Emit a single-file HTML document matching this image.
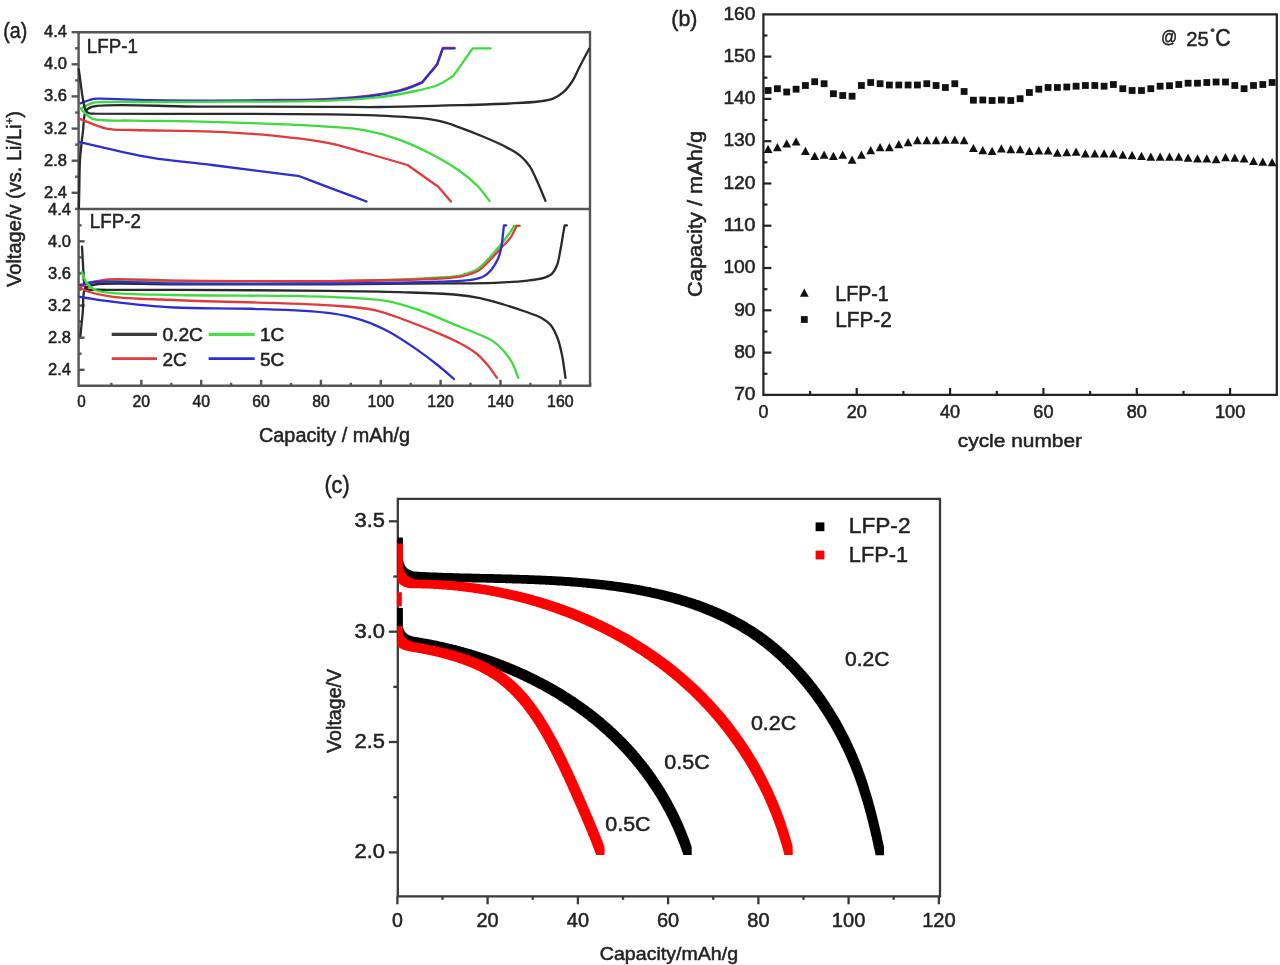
<!DOCTYPE html>
<html><head><meta charset="utf-8"><style>
html,body{margin:0;padding:0;background:#fff;width:1280px;height:965px;overflow:hidden}
svg{display:block;filter:blur(0.6px)}
text{font-family:"Liberation Sans",sans-serif;stroke:#222;stroke-width:0.5px}
</style></head><body>
<svg width="1280" height="965" viewBox="0 0 1280 965">
<rect width="1280" height="965" fill="#fff"/>
<g stroke="#555" stroke-width="2.4" fill="none">
<path d="M78.6 32.2 H590.0 V385.8 H78.6 Z"/>
<path d="M78.6 209.0 H590.0"/>
<path d="M71.6 32.2 h7.0"/>
<path d="M75.1 48.3 h3.5"/>
<path d="M71.6 64.3 h7.0"/>
<path d="M75.1 80.4 h3.5"/>
<path d="M71.6 96.4 h7.0"/>
<path d="M75.1 112.5 h3.5"/>
<path d="M71.6 128.6 h7.0"/>
<path d="M75.1 144.6 h3.5"/>
<path d="M71.6 160.7 h7.0"/>
<path d="M75.1 176.7 h3.5"/>
<path d="M71.6 192.8 h7.0"/>
<path d="M75.1 208.9 h3.5"/>
<path d="M78.6 225.3 h3.0"/>
<path d="M78.6 241.3 h6.0"/>
<path d="M78.6 257.4 h3.0"/>
<path d="M78.6 273.4 h6.0"/>
<path d="M78.6 289.5 h3.0"/>
<path d="M78.6 305.6 h6.0"/>
<path d="M78.6 321.6 h3.0"/>
<path d="M78.6 337.7 h6.0"/>
<path d="M78.6 353.7 h3.0"/>
<path d="M78.6 369.8 h6.0"/>
<path d="M111.4 385.8 v-3.0"/>
<path d="M141.3 385.8 v-6.0"/>
<path d="M171.3 385.8 v-3.0"/>
<path d="M201.2 385.8 v-6.0"/>
<path d="M231.1 385.8 v-3.0"/>
<path d="M261.1 385.8 v-6.0"/>
<path d="M291.0 385.8 v-3.0"/>
<path d="M320.9 385.8 v-6.0"/>
<path d="M350.8 385.8 v-3.0"/>
<path d="M380.8 385.8 v-6.0"/>
<path d="M410.7 385.8 v-3.0"/>
<path d="M440.6 385.8 v-6.0"/>
<path d="M470.5 385.8 v-3.0"/>
<path d="M500.5 385.8 v-6.0"/>
<path d="M530.4 385.8 v-3.0"/>
<path d="M560.3 385.8 v-6.0"/>
<path d="M590.2 385.8 v-3.0"/>
</g>
<text x="67.0" y="37.1" font-size="16.0" text-anchor="end" fill="#222" textLength="23.0" lengthAdjust="spacingAndGlyphs" >4.4</text>
<text x="67.0" y="69.2" font-size="16.0" text-anchor="end" fill="#222" textLength="23.0" lengthAdjust="spacingAndGlyphs" >4.0</text>
<text x="67.0" y="101.3" font-size="16.0" text-anchor="end" fill="#222" textLength="23.0" lengthAdjust="spacingAndGlyphs" >3.6</text>
<text x="67.0" y="133.5" font-size="16.0" text-anchor="end" fill="#222" textLength="23.0" lengthAdjust="spacingAndGlyphs" >3.2</text>
<text x="67.0" y="165.6" font-size="16.0" text-anchor="end" fill="#222" textLength="23.0" lengthAdjust="spacingAndGlyphs" >2.8</text>
<text x="67.0" y="197.7" font-size="16.0" text-anchor="end" fill="#222" textLength="23.0" lengthAdjust="spacingAndGlyphs" >2.4</text>
<text x="71.0" y="214.7" font-size="16.0" text-anchor="end" fill="#222" textLength="23.0" lengthAdjust="spacingAndGlyphs" >4.4</text>
<text x="71.0" y="246.8" font-size="16.0" text-anchor="end" fill="#222" textLength="23.0" lengthAdjust="spacingAndGlyphs" >4.0</text>
<text x="71.0" y="278.9" font-size="16.0" text-anchor="end" fill="#222" textLength="23.0" lengthAdjust="spacingAndGlyphs" >3.6</text>
<text x="71.0" y="311.1" font-size="16.0" text-anchor="end" fill="#222" textLength="23.0" lengthAdjust="spacingAndGlyphs" >3.2</text>
<text x="71.0" y="343.2" font-size="16.0" text-anchor="end" fill="#222" textLength="23.0" lengthAdjust="spacingAndGlyphs" >2.8</text>
<text x="71.0" y="375.3" font-size="16.0" text-anchor="end" fill="#222" textLength="23.0" lengthAdjust="spacingAndGlyphs" >2.4</text>
<text x="81.5" y="407.0" font-size="16.0" text-anchor="middle" fill="#222" textLength="8.5" lengthAdjust="spacingAndGlyphs" >0</text>
<text x="141.3" y="407.0" font-size="16.0" text-anchor="middle" fill="#222" textLength="17.5" lengthAdjust="spacingAndGlyphs" >20</text>
<text x="201.2" y="407.0" font-size="16.0" text-anchor="middle" fill="#222" textLength="17.5" lengthAdjust="spacingAndGlyphs" >40</text>
<text x="261.1" y="407.0" font-size="16.0" text-anchor="middle" fill="#222" textLength="17.5" lengthAdjust="spacingAndGlyphs" >60</text>
<text x="320.9" y="407.0" font-size="16.0" text-anchor="middle" fill="#222" textLength="17.5" lengthAdjust="spacingAndGlyphs" >80</text>
<text x="380.8" y="407.0" font-size="16.0" text-anchor="middle" fill="#222" textLength="26.5" lengthAdjust="spacingAndGlyphs" >100</text>
<text x="440.6" y="407.0" font-size="16.0" text-anchor="middle" fill="#222" textLength="26.5" lengthAdjust="spacingAndGlyphs" >120</text>
<text x="500.5" y="407.0" font-size="16.0" text-anchor="middle" fill="#222" textLength="26.5" lengthAdjust="spacingAndGlyphs" >140</text>
<text x="560.3" y="407.0" font-size="16.0" text-anchor="middle" fill="#222" textLength="26.5" lengthAdjust="spacingAndGlyphs" >160</text>
<text x="3.3" y="38.0" font-size="22.0" text-anchor="start" fill="#222" textLength="24.0" lengthAdjust="spacingAndGlyphs" >(a)</text>
<text x="86.8" y="53.0" font-size="20.0" text-anchor="start" fill="#222" textLength="51.0" lengthAdjust="spacingAndGlyphs" >LFP-1</text>
<text x="89.8" y="228.0" font-size="20.0" text-anchor="start" fill="#222" textLength="51.0" lengthAdjust="spacingAndGlyphs" >LFP-2</text>
<text x="259.0" y="441.8" font-size="20.0" text-anchor="start" fill="#222" textLength="151.0" lengthAdjust="spacingAndGlyphs" >Capacity / mAh/g</text>
<text transform="translate(20.5 287) rotate(-90)" font-size="19.5" fill="#222" textLength="176" lengthAdjust="spacingAndGlyphs">Voltage/v (vs. Li/Li<tspan font-size="11" dy="-8">+</tspan><tspan dy="8">)</tspan></text>
<g stroke-width="2.5" fill="none">
<path d="M111.7 334.4 H157" stroke="#3a3a3a" stroke-width="3.4"/>
<path d="M208.6 334.4 H254.7" stroke="#4ddc4d" stroke-width="3.4"/>
<path d="M111.7 358.6 H157" stroke="#e03a3a" stroke-width="2.8"/>
<path d="M208.6 358.6 H254.7" stroke="#2e2ed0" stroke-width="2.8"/>
</g>
<text x="162.4" y="341.0" font-size="17.5" text-anchor="start" fill="#222" textLength="40.6" lengthAdjust="spacingAndGlyphs" >0.2C</text>
<text x="260.0" y="341.0" font-size="17.5" text-anchor="start" fill="#222" textLength="24.3" lengthAdjust="spacingAndGlyphs" >1C</text>
<text x="162.4" y="365.8" font-size="17.5" text-anchor="start" fill="#222" textLength="24.3" lengthAdjust="spacingAndGlyphs" >2C</text>
<text x="260.0" y="365.8" font-size="17.5" text-anchor="start" fill="#222" textLength="24.3" lengthAdjust="spacingAndGlyphs" >5C</text>
<g fill="none" stroke-width="2.3" stroke-linejoin="round" stroke-linecap="round">
<path stroke="#e03a3a" d="M252.80 100.30 C278.53 99.83 308.26 100.01 330.00 98.90 C345.95 98.08 359.07 97.02 371.40 95.40 C381.48 94.07 392.00 92.09 398.70 90.50 C402.68 89.55 404.68 88.90 408.10 87.70 C412.36 86.21 417.50 83.90 422.20 82.00 L437.20 64.00 L442.80 48.00 L454.50 48.00"/>
<path stroke="#2e2ed0" d="M80.50 103.40 C83.93 102.13 87.72 100.37 90.80 99.60 C93.18 99.00 94.07 98.88 97.30 98.70 C106.53 98.19 130.26 99.88 151.00 100.20 C179.55 100.64 221.21 100.68 252.80 100.50 C280.31 100.34 308.26 100.45 330.00 99.40 C345.95 98.63 359.07 97.61 371.40 96.00 C381.48 94.68 392.00 92.69 398.70 91.10 C402.68 90.15 404.68 89.50 408.10 88.30 C412.36 86.81 417.50 84.50 422.20 82.60 L437.20 64.40 L442.80 48.40 L454.50 48.40"/>
<path stroke="#3cdc3c" d="M80.50 108.50 C84.57 106.63 88.82 103.95 92.70 102.90 C95.93 102.03 97.97 102.19 102.00 102.00 C109.47 101.64 121.42 102.02 134.00 102.00 C152.06 101.97 174.31 101.96 200.00 101.80 C236.06 101.58 296.84 101.88 330.00 100.60 C350.59 99.81 365.75 98.87 380.00 97.20 C390.74 95.94 398.62 94.47 408.10 92.50 C417.98 90.44 430.01 88.33 438.10 85.00 C444.18 82.50 448.10 79.07 453.10 76.10 L472.80 48.40 L490.60 48.40"/>
<path stroke="#2a2a2a" d="M78.90 208.00 C79.03 202.00 79.15 196.76 79.30 190.00 C79.50 181.27 79.38 169.83 80.00 160.00 C80.60 150.44 81.80 140.54 82.90 131.80 C83.86 124.16 83.38 114.40 86.10 110.40 C87.72 108.03 88.96 107.60 92.70 106.60 C106.74 102.85 162.52 106.57 200.00 106.60 C241.26 106.63 296.83 106.71 330.00 106.80 C350.57 106.86 361.39 107.17 380.00 107.00 C403.55 106.78 436.59 105.87 460.00 105.20 C478.33 104.68 494.75 104.23 509.00 103.50 C520.05 102.93 530.33 102.57 538.40 101.50 C544.14 100.74 548.74 100.25 553.00 98.60 C556.73 97.16 559.75 95.32 562.80 92.70 C566.32 89.67 569.74 85.22 572.50 81.00 C575.28 76.76 576.88 72.20 579.40 67.30 C582.34 61.58 585.87 54.97 589.10 48.80"/>
<path stroke="#2a2a2a" d="M78.70 69.30 C81.03 83.00 82.57 104.79 85.70 110.40 C86.72 112.22 87.62 112.74 89.00 113.30 C90.62 113.96 91.77 113.51 95.00 113.60 C108.50 113.96 163.13 113.79 200.00 113.90 C241.02 114.02 297.77 113.86 330.00 114.30 C349.09 114.56 360.41 114.75 375.60 115.40 C390.81 116.05 408.64 116.72 421.20 118.20 C430.14 119.26 437.13 120.45 444.00 122.20 C449.87 123.70 454.22 125.50 460.00 127.60 C466.96 130.13 475.24 133.32 482.80 136.50 C490.44 139.72 498.92 143.25 505.60 146.80 C511.17 149.76 516.25 152.45 520.40 155.90 C524.09 158.97 526.89 162.10 529.60 166.10 C532.69 170.66 534.93 176.51 537.50 182.10 C540.24 188.08 542.83 194.63 545.50 200.90"/>
<path stroke="#3cdc3c" d="M80.50 108.50 C82.33 110.33 84.00 112.30 86.00 114.00 C88.06 115.75 89.26 117.61 92.70 118.80 C100.41 121.46 119.06 120.17 134.00 120.60 C151.69 121.11 168.55 120.78 192.00 121.40 C228.19 122.36 299.44 124.69 330.00 126.80 C345.24 127.85 352.88 128.15 364.20 130.20 C375.68 132.28 387.16 135.30 398.40 139.30 C409.97 143.41 421.98 149.14 432.60 154.70 C442.40 159.84 452.12 165.59 460.00 171.20 C466.58 175.89 472.06 180.39 477.10 185.50 C481.85 190.32 485.43 195.77 489.60 200.90"/>
<path stroke="#e03a3a" d="M79.60 118.80 C88.60 122.07 97.43 126.74 106.60 128.60 C115.57 130.41 122.53 129.59 134.00 130.00 C153.35 130.69 187.61 130.55 212.00 131.60 C233.59 132.53 253.05 133.60 273.00 135.60 C292.36 137.54 313.51 139.98 330.00 143.30 C342.94 145.90 352.14 149.14 364.20 152.50 C377.80 156.29 393.07 160.83 407.50 165.00 L438.30 186.70 L450.90 201.50"/>
<path stroke="#2e2ed0" d="M79.60 142.10 C103.40 147.27 128.05 153.73 151.00 157.60 C172.05 161.15 189.84 162.24 212.00 165.00 C238.55 168.31 270.33 172.47 299.50 176.20 C309.67 180.07 319.37 183.78 330.00 187.80 C341.62 192.19 354.33 196.93 366.50 201.50"/>
<path stroke="#2a2a2a" d="M80.40 336.00 C81.23 327.33 82.39 317.49 82.90 310.00 C83.29 304.32 82.85 299.03 83.50 295.00 C83.95 292.20 83.91 289.72 85.50 288.00 C87.38 285.98 90.18 285.37 95.00 284.50 C108.46 282.08 143.23 284.34 174.00 284.30 C217.24 284.25 282.53 284.49 330.00 284.30 C369.86 284.14 409.67 283.69 440.00 283.40 C461.39 283.20 478.79 283.42 494.70 282.80 C507.03 282.32 518.46 281.64 527.50 280.60 C533.93 279.86 539.54 279.30 543.90 277.90 C547.04 276.89 549.47 276.04 551.60 274.10 C553.93 271.97 555.59 268.77 557.00 265.30 C558.73 261.02 559.34 255.36 560.40 250.00 C561.56 244.12 562.80 235.89 563.60 231.40 C564.05 228.85 564.33 227.40 564.70 225.40 L566.90 225.40"/>
<path stroke="#2a2a2a" d="M82.00 246.60 C82.43 254.40 82.93 263.49 83.30 270.00 C83.57 274.66 83.30 278.58 84.00 282.00 C84.55 284.69 84.67 287.62 86.50 289.00 C88.78 290.72 92.48 289.56 98.00 289.75 C112.19 290.23 144.16 289.77 174.00 289.90 C216.75 290.08 288.28 290.38 330.00 290.90 C357.95 291.25 378.18 291.53 400.00 292.20 C419.17 292.79 439.28 293.14 454.00 294.50 C464.26 295.45 471.60 296.48 480.00 298.20 C488.08 299.85 495.87 302.24 503.50 304.50 C510.86 306.68 518.33 309.11 525.00 311.50 C530.92 313.62 537.01 315.35 541.60 318.00 C545.37 320.18 548.41 322.35 551.00 325.50 C553.80 328.91 555.72 333.41 557.50 338.00 C559.49 343.13 560.73 348.88 562.00 355.00 C563.46 362.03 564.33 370.27 565.50 377.90"/>
<path stroke="#3cdc3c" d="M80.00 286.00 C84.00 284.67 86.10 282.99 92.00 282.00 C107.02 279.47 142.31 281.16 174.00 281.00 C217.71 280.78 282.54 282.07 330.00 281.30 C369.87 280.65 417.39 279.18 440.00 277.50 C450.12 276.75 455.23 276.69 461.90 275.00 C467.87 273.49 473.63 271.41 478.30 268.40 C482.61 265.62 485.56 261.82 489.20 258.00 C493.23 253.77 497.55 248.64 501.30 244.00 C504.82 239.65 508.87 234.40 511.10 231.00 C512.44 228.96 513.03 227.60 514.00 225.90 L520.00 225.90"/>
<path stroke="#e03a3a" d="M80.00 287.00 C83.33 285.67 86.22 284.15 90.00 283.00 C94.66 281.59 98.76 280.31 106.00 279.60 C120.75 278.16 146.69 280.36 174.00 280.60 C215.36 280.97 282.53 281.58 330.00 281.10 C369.86 280.69 417.39 279.90 440.00 278.50 C450.11 277.87 455.20 277.74 461.90 276.30 C467.84 275.02 473.62 273.53 478.30 270.80 C482.60 268.29 485.56 264.61 489.20 261.00 C493.22 257.01 497.49 252.00 501.30 247.80 C504.75 244.00 508.49 240.73 511.10 236.90 C513.49 233.40 514.77 229.57 516.60 225.90 L518.80 225.90"/>
<path stroke="#2e2ed0" d="M80.00 285.00 C85.00 284.00 87.99 282.63 95.00 282.00 C110.94 280.57 143.23 283.21 174.00 283.50 C217.24 283.91 282.53 283.89 330.00 283.50 C369.86 283.17 414.11 282.74 440.00 281.70 C454.15 281.13 464.84 281.03 472.80 279.60 C477.51 278.75 480.63 278.05 483.80 276.30 C486.77 274.67 489.14 272.38 491.40 269.70 C493.94 266.68 496.33 262.55 498.00 258.80 C499.58 255.24 500.49 251.66 501.30 247.80 C502.17 243.66 502.42 238.69 502.90 234.70 C503.30 231.34 503.63 228.50 504.00 225.40 L506.20 225.40"/>
<path stroke="#3cdc3c" d="M82.00 272.00 C83.33 275.33 83.94 279.06 86.00 282.00 C88.18 285.11 91.32 288.20 95.00 290.00 C99.14 292.03 103.22 292.06 110.00 292.80 C123.88 294.33 147.99 294.39 174.00 295.00 C214.60 295.94 291.40 295.32 330.00 296.90 C352.82 297.84 368.68 298.08 384.40 300.70 C396.76 302.76 405.51 305.56 417.00 309.40 C430.47 313.90 449.07 322.41 460.00 326.80 C466.72 329.50 470.90 330.97 476.30 333.30 C481.77 335.66 487.91 337.80 492.60 340.90 C496.84 343.70 500.24 347.08 503.50 350.70 C506.78 354.34 509.79 358.30 512.20 362.70 C514.74 367.32 516.20 372.83 518.20 377.90"/>
<path stroke="#e03a3a" d="M80.00 287.00 C81.33 288.00 81.91 289.02 84.00 290.00 C89.00 292.34 100.75 294.98 112.00 296.60 C128.53 298.98 148.64 298.87 174.00 300.00 C214.21 301.80 294.09 302.96 330.00 305.40 C349.01 306.69 360.17 306.98 373.50 309.80 C385.32 312.30 395.37 316.57 406.20 320.50 C417.14 324.47 429.15 329.35 438.80 333.50 C446.67 336.89 453.50 339.78 460.00 343.30 C465.90 346.49 471.60 349.74 476.30 353.50 C480.52 356.88 483.80 360.52 487.20 364.50 C490.72 368.63 493.73 373.43 497.00 377.90"/>
<path stroke="#2e2ed0" d="M80.00 297.00 C81.33 297.17 82.09 297.24 84.00 297.50 C88.89 298.16 99.39 300.01 110.00 301.30 C126.59 303.31 151.72 306.24 174.00 307.50 C198.22 308.87 224.35 307.83 250.00 308.75 C276.33 309.70 309.31 310.39 330.00 313.20 C343.35 315.01 352.38 316.99 362.60 320.30 C372.24 323.42 380.92 327.45 389.80 332.20 C399.07 337.15 408.54 343.72 417.00 349.60 C424.78 355.00 432.26 360.75 438.80 366.00 C444.40 370.49 448.93 374.67 454.00 379.00"/>
</g>
<g stroke="#222" stroke-width="2.2" fill="none">
<path d="M763.4 14.3 H1276.8 V394.9 H763.4 Z"/>
<path d="M763.4 373.8 h4.0"/>
<path d="M763.4 352.6 h8.0"/>
<path d="M763.4 331.5 h4.0"/>
<path d="M763.4 310.3 h8.0"/>
<path d="M763.4 289.2 h4.0"/>
<path d="M763.4 268.0 h8.0"/>
<path d="M763.4 246.9 h4.0"/>
<path d="M763.4 225.7 h8.0"/>
<path d="M763.4 204.6 h4.0"/>
<path d="M763.4 183.5 h8.0"/>
<path d="M763.4 162.3 h4.0"/>
<path d="M763.4 141.2 h8.0"/>
<path d="M763.4 120.0 h4.0"/>
<path d="M763.4 98.9 h8.0"/>
<path d="M763.4 77.7 h4.0"/>
<path d="M763.4 56.6 h8.0"/>
<path d="M763.4 35.5 h4.0"/>
<path d="M810.1 394.9 v-4.0"/>
<path d="M856.7 394.9 v-7.0"/>
<path d="M903.4 394.9 v-4.0"/>
<path d="M950.1 394.9 v-7.0"/>
<path d="M996.8 394.9 v-4.0"/>
<path d="M1043.4 394.9 v-7.0"/>
<path d="M1090.1 394.9 v-4.0"/>
<path d="M1136.8 394.9 v-7.0"/>
<path d="M1183.5 394.9 v-4.0"/>
<path d="M1230.1 394.9 v-7.0"/>
</g>
<text x="755.5" y="400.1" font-size="18.0" text-anchor="end" fill="#222" textLength="21.3" lengthAdjust="spacingAndGlyphs" >70</text>
<text x="755.5" y="357.8" font-size="18.0" text-anchor="end" fill="#222" textLength="21.3" lengthAdjust="spacingAndGlyphs" >80</text>
<text x="755.5" y="315.5" font-size="18.0" text-anchor="end" fill="#222" textLength="21.3" lengthAdjust="spacingAndGlyphs" >90</text>
<text x="755.5" y="273.2" font-size="18.0" text-anchor="end" fill="#222" textLength="32.1" lengthAdjust="spacingAndGlyphs" >100</text>
<text x="755.5" y="230.9" font-size="18.0" text-anchor="end" fill="#222" textLength="32.1" lengthAdjust="spacingAndGlyphs" >110</text>
<text x="755.5" y="188.7" font-size="18.0" text-anchor="end" fill="#222" textLength="32.1" lengthAdjust="spacingAndGlyphs" >120</text>
<text x="755.5" y="146.4" font-size="18.0" text-anchor="end" fill="#222" textLength="32.1" lengthAdjust="spacingAndGlyphs" >130</text>
<text x="755.5" y="104.1" font-size="18.0" text-anchor="end" fill="#222" textLength="32.1" lengthAdjust="spacingAndGlyphs" >140</text>
<text x="755.5" y="61.8" font-size="18.0" text-anchor="end" fill="#222" textLength="32.1" lengthAdjust="spacingAndGlyphs" >150</text>
<text x="755.5" y="19.5" font-size="18.0" text-anchor="end" fill="#222" textLength="32.1" lengthAdjust="spacingAndGlyphs" >160</text>
<text x="763.4" y="418.2" font-size="18.0" text-anchor="middle" fill="#222" textLength="9.9" lengthAdjust="spacingAndGlyphs" >0</text>
<text x="856.7" y="418.2" font-size="18.0" text-anchor="middle" fill="#222" textLength="20.1" lengthAdjust="spacingAndGlyphs" >20</text>
<text x="950.1" y="418.2" font-size="18.0" text-anchor="middle" fill="#222" textLength="20.1" lengthAdjust="spacingAndGlyphs" >40</text>
<text x="1043.4" y="418.2" font-size="18.0" text-anchor="middle" fill="#222" textLength="20.1" lengthAdjust="spacingAndGlyphs" >60</text>
<text x="1136.8" y="418.2" font-size="18.0" text-anchor="middle" fill="#222" textLength="20.1" lengthAdjust="spacingAndGlyphs" >80</text>
<text x="1230.1" y="418.2" font-size="18.0" text-anchor="middle" fill="#222" textLength="30.3" lengthAdjust="spacingAndGlyphs" >100</text>
<text x="671.3" y="25.5" font-size="22.5" text-anchor="start" fill="#222" textLength="26.2" lengthAdjust="spacingAndGlyphs" >(b)</text>
<text x="957.8" y="447.4" font-size="19.2" text-anchor="start" fill="#222" textLength="124.2" lengthAdjust="spacingAndGlyphs" >cycle number</text>
<text transform="translate(701.8 296.9) rotate(-90)" font-size="20" fill="#222" textLength="166" lengthAdjust="spacingAndGlyphs">Capacity / mAh/g</text>
<text x="1161.0" y="42.8" font-size="17.5" text-anchor="start" fill="#222" textLength="16.2" lengthAdjust="spacingAndGlyphs" >@</text>
<text x="1186.3" y="45.7" font-size="21.0" text-anchor="start" fill="#222" textLength="22.5" lengthAdjust="spacingAndGlyphs" >25</text>
<circle cx="1212.6" cy="30.2" r="1.9" fill="#444"/>
<text x="1215.3" y="45.7" font-size="24.0" text-anchor="start" fill="#222" textLength="15.4" lengthAdjust="spacingAndGlyphs" >C</text>
<g fill="#111">
<rect x="764.7" y="87.1" width="6.8" height="6.8"/>
<rect x="774.0" y="85.3" width="6.8" height="6.8"/>
<rect x="783.3" y="88.6" width="6.8" height="6.8"/>
<rect x="792.7" y="85.8" width="6.8" height="6.8"/>
<rect x="802.0" y="82.1" width="6.8" height="6.8"/>
<rect x="811.3" y="78.3" width="6.8" height="6.8"/>
<rect x="820.7" y="80.3" width="6.8" height="6.8"/>
<rect x="830.0" y="90.3" width="6.8" height="6.8"/>
<rect x="839.3" y="92.1" width="6.8" height="6.8"/>
<rect x="848.7" y="92.8" width="6.8" height="6.8"/>
<rect x="858.0" y="82.1" width="6.8" height="6.8"/>
<rect x="867.3" y="79.1" width="6.8" height="6.8"/>
<rect x="876.7" y="80.3" width="6.8" height="6.8"/>
<rect x="886.0" y="81.6" width="6.8" height="6.8"/>
<rect x="895.4" y="81.6" width="6.8" height="6.8"/>
<rect x="904.7" y="81.6" width="6.8" height="6.8"/>
<rect x="914.0" y="81.6" width="6.8" height="6.8"/>
<rect x="923.4" y="80.3" width="6.8" height="6.8"/>
<rect x="932.7" y="82.1" width="6.8" height="6.8"/>
<rect x="942.0" y="84.1" width="6.8" height="6.8"/>
<rect x="951.4" y="80.3" width="6.8" height="6.8"/>
<rect x="960.7" y="88.1" width="6.8" height="6.8"/>
<rect x="970.0" y="96.8" width="6.8" height="6.8"/>
<rect x="979.4" y="96.6" width="6.8" height="6.8"/>
<rect x="988.7" y="97.1" width="6.8" height="6.8"/>
<rect x="998.0" y="96.6" width="6.8" height="6.8"/>
<rect x="1007.4" y="97.1" width="6.8" height="6.8"/>
<rect x="1016.7" y="95.3" width="6.8" height="6.8"/>
<rect x="1026.0" y="89.1" width="6.8" height="6.8"/>
<rect x="1035.4" y="85.8" width="6.8" height="6.8"/>
<rect x="1044.7" y="84.1" width="6.8" height="6.8"/>
<rect x="1054.0" y="84.1" width="6.8" height="6.8"/>
<rect x="1063.4" y="83.6" width="6.8" height="6.8"/>
<rect x="1072.7" y="82.8" width="6.8" height="6.8"/>
<rect x="1082.0" y="82.1" width="6.8" height="6.8"/>
<rect x="1091.4" y="82.1" width="6.8" height="6.8"/>
<rect x="1100.7" y="82.8" width="6.8" height="6.8"/>
<rect x="1110.0" y="81.1" width="6.8" height="6.8"/>
<rect x="1119.4" y="85.3" width="6.8" height="6.8"/>
<rect x="1128.7" y="87.1" width="6.8" height="6.8"/>
<rect x="1138.1" y="87.1" width="6.8" height="6.8"/>
<rect x="1147.4" y="85.3" width="6.8" height="6.8"/>
<rect x="1156.7" y="82.8" width="6.8" height="6.8"/>
<rect x="1166.1" y="82.3" width="6.8" height="6.8"/>
<rect x="1175.4" y="81.1" width="6.8" height="6.8"/>
<rect x="1184.7" y="79.8" width="6.8" height="6.8"/>
<rect x="1194.1" y="79.8" width="6.8" height="6.8"/>
<rect x="1203.4" y="79.1" width="6.8" height="6.8"/>
<rect x="1212.7" y="78.6" width="6.8" height="6.8"/>
<rect x="1222.1" y="78.6" width="6.8" height="6.8"/>
<rect x="1231.4" y="82.1" width="6.8" height="6.8"/>
<rect x="1240.7" y="85.3" width="6.8" height="6.8"/>
<rect x="1250.1" y="82.1" width="6.8" height="6.8"/>
<rect x="1259.4" y="81.1" width="6.8" height="6.8"/>
<rect x="1268.7" y="79.1" width="6.8" height="6.8"/>
<path d="M768.1 144.8 L772.5 152.9 L763.7 152.9 Z"/>
<path d="M777.4 143.1 L781.8 151.2 L773.0 151.2 Z"/>
<path d="M786.7 139.3 L791.1 147.4 L782.3 147.4 Z"/>
<path d="M796.1 137.3 L800.5 145.4 L791.7 145.4 Z"/>
<path d="M805.4 146.8 L809.8 154.9 L801.0 154.9 Z"/>
<path d="M814.7 151.8 L819.1 159.9 L810.3 159.9 Z"/>
<path d="M824.1 150.6 L828.5 158.7 L819.7 158.7 Z"/>
<path d="M833.4 151.8 L837.8 159.9 L829.0 159.9 Z"/>
<path d="M842.7 150.6 L847.1 158.7 L838.3 158.7 Z"/>
<path d="M852.1 155.6 L856.5 163.7 L847.7 163.7 Z"/>
<path d="M861.4 150.6 L865.8 158.7 L857.0 158.7 Z"/>
<path d="M870.7 146.1 L875.1 154.2 L866.3 154.2 Z"/>
<path d="M880.1 143.1 L884.5 151.2 L875.7 151.2 Z"/>
<path d="M889.4 143.1 L893.8 151.2 L885.0 151.2 Z"/>
<path d="M898.8 140.1 L903.2 148.2 L894.4 148.2 Z"/>
<path d="M908.1 138.1 L912.5 146.2 L903.7 146.2 Z"/>
<path d="M917.4 136.1 L921.8 144.2 L913.0 144.2 Z"/>
<path d="M926.8 136.1 L931.2 144.2 L922.4 144.2 Z"/>
<path d="M936.1 136.1 L940.5 144.2 L931.7 144.2 Z"/>
<path d="M945.4 135.6 L949.8 143.7 L941.0 143.7 Z"/>
<path d="M954.8 135.6 L959.2 143.7 L950.4 143.7 Z"/>
<path d="M964.1 136.1 L968.5 144.2 L959.7 144.2 Z"/>
<path d="M973.4 144.0 L977.8 152.1 L969.0 152.1 Z"/>
<path d="M982.8 146.1 L987.2 154.2 L978.4 154.2 Z"/>
<path d="M992.1 146.8 L996.5 154.9 L987.7 154.9 Z"/>
<path d="M1001.4 144.3 L1005.8 152.4 L997.0 152.4 Z"/>
<path d="M1010.8 145.1 L1015.2 153.2 L1006.4 153.2 Z"/>
<path d="M1020.1 145.1 L1024.5 153.2 L1015.7 153.2 Z"/>
<path d="M1029.4 146.8 L1033.8 154.9 L1025.0 154.9 Z"/>
<path d="M1038.8 146.3 L1043.2 154.4 L1034.4 154.4 Z"/>
<path d="M1048.1 146.3 L1052.5 154.4 L1043.7 154.4 Z"/>
<path d="M1057.4 148.6 L1061.8 156.7 L1053.0 156.7 Z"/>
<path d="M1066.8 148.1 L1071.2 156.2 L1062.4 156.2 Z"/>
<path d="M1076.1 147.6 L1080.5 155.7 L1071.7 155.7 Z"/>
<path d="M1085.4 149.3 L1089.8 157.4 L1081.0 157.4 Z"/>
<path d="M1094.8 149.3 L1099.2 157.4 L1090.4 157.4 Z"/>
<path d="M1104.1 149.3 L1108.5 157.4 L1099.7 157.4 Z"/>
<path d="M1113.4 149.3 L1117.8 157.4 L1109.0 157.4 Z"/>
<path d="M1122.8 150.6 L1127.2 158.7 L1118.4 158.7 Z"/>
<path d="M1132.1 151.1 L1136.5 159.2 L1127.7 159.2 Z"/>
<path d="M1141.5 151.8 L1145.9 159.9 L1137.1 159.9 Z"/>
<path d="M1150.8 152.6 L1155.2 160.7 L1146.4 160.7 Z"/>
<path d="M1160.1 152.6 L1164.5 160.7 L1155.7 160.7 Z"/>
<path d="M1169.5 152.6 L1173.9 160.7 L1165.1 160.7 Z"/>
<path d="M1178.8 152.6 L1183.2 160.7 L1174.4 160.7 Z"/>
<path d="M1188.1 153.6 L1192.5 161.7 L1183.7 161.7 Z"/>
<path d="M1197.5 154.3 L1201.9 162.4 L1193.1 162.4 Z"/>
<path d="M1206.8 154.3 L1211.2 162.4 L1202.4 162.4 Z"/>
<path d="M1216.1 155.1 L1220.5 163.2 L1211.7 163.2 Z"/>
<path d="M1225.5 153.1 L1229.9 161.2 L1221.1 161.2 Z"/>
<path d="M1234.8 153.6 L1239.2 161.7 L1230.4 161.7 Z"/>
<path d="M1244.1 154.3 L1248.5 162.4 L1239.7 162.4 Z"/>
<path d="M1253.5 156.8 L1257.9 164.9 L1249.1 164.9 Z"/>
<path d="M1262.8 157.6 L1267.2 165.7 L1258.4 165.7 Z"/>
<path d="M1272.1 158.1 L1276.5 166.2 L1267.7 166.2 Z"/>
<path d="M804.3 288.6 L808.7 296.7 L799.9 296.7 Z"/>
<rect x="800.9" y="316.1" width="6.8" height="6.8"/>
</g>
<text x="835.3" y="301.2" font-size="21.5" text-anchor="start" fill="#222" textLength="53.5" lengthAdjust="spacingAndGlyphs" >LFP-1</text>
<text x="835.3" y="327.2" font-size="21.5" text-anchor="start" fill="#222" textLength="56.5" lengthAdjust="spacingAndGlyphs" >LFP-2</text>
<g stroke="#3a3a3a" stroke-width="2.3" fill="none">
<path d="M397.8 498.8 H940.0 V896.3 H397.8 Z"/>
<path d="M388.8 852.4 h9.0"/>
<path d="M393.3 797.2 h4.5"/>
<path d="M388.8 742.0 h9.0"/>
<path d="M393.3 686.9 h4.5"/>
<path d="M388.8 631.7 h9.0"/>
<path d="M393.3 576.5 h4.5"/>
<path d="M388.8 521.3 h9.0"/>
<path d="M397.4 896.3 v8.0"/>
<path d="M442.5 896.3 v3.5"/>
<path d="M487.6 896.3 v8.0"/>
<path d="M532.7 896.3 v3.5"/>
<path d="M577.9 896.3 v8.0"/>
<path d="M623.0 896.3 v3.5"/>
<path d="M668.1 896.3 v8.0"/>
<path d="M713.2 896.3 v3.5"/>
<path d="M758.4 896.3 v8.0"/>
<path d="M803.5 896.3 v3.5"/>
<path d="M848.6 896.3 v8.0"/>
<path d="M893.7 896.3 v3.5"/>
<path d="M938.9 896.3 v8.0"/>
</g>
<text x="385.0" y="858.3" font-size="20.0" text-anchor="end" fill="#222" textLength="30.5" lengthAdjust="spacingAndGlyphs" >2.0</text>
<text x="385.0" y="747.9" font-size="20.0" text-anchor="end" fill="#222" textLength="30.5" lengthAdjust="spacingAndGlyphs" >2.5</text>
<text x="385.0" y="637.6" font-size="20.0" text-anchor="end" fill="#222" textLength="30.5" lengthAdjust="spacingAndGlyphs" >3.0</text>
<text x="385.0" y="527.2" font-size="20.0" text-anchor="end" fill="#222" textLength="30.5" lengthAdjust="spacingAndGlyphs" >3.5</text>
<text x="397.4" y="926.5" font-size="20.0" text-anchor="middle" fill="#222" textLength="10.9" lengthAdjust="spacingAndGlyphs" >0</text>
<text x="487.6" y="926.5" font-size="20.0" text-anchor="middle" fill="#222" textLength="22.2" lengthAdjust="spacingAndGlyphs" >20</text>
<text x="577.9" y="926.5" font-size="20.0" text-anchor="middle" fill="#222" textLength="22.2" lengthAdjust="spacingAndGlyphs" >40</text>
<text x="668.1" y="926.5" font-size="20.0" text-anchor="middle" fill="#222" textLength="22.2" lengthAdjust="spacingAndGlyphs" >60</text>
<text x="758.4" y="926.5" font-size="20.0" text-anchor="middle" fill="#222" textLength="22.2" lengthAdjust="spacingAndGlyphs" >80</text>
<text x="848.6" y="926.5" font-size="20.0" text-anchor="middle" fill="#222" textLength="33.5" lengthAdjust="spacingAndGlyphs" >100</text>
<text x="938.9" y="926.5" font-size="20.0" text-anchor="middle" fill="#222" textLength="33.5" lengthAdjust="spacingAndGlyphs" >120</text>
<text x="324.4" y="492.5" font-size="23.0" text-anchor="start" fill="#222" textLength="25.3" lengthAdjust="spacingAndGlyphs" >(c)</text>
<text x="599.8" y="960.2" font-size="18.5" text-anchor="start" fill="#222" textLength="138.3" lengthAdjust="spacingAndGlyphs" >Capacity/mAh/g</text>
<text transform="translate(340.6 752.9) rotate(-90)" font-size="19.5" fill="#222" textLength="84" lengthAdjust="spacingAndGlyphs">Voltage/V</text>
<text x="848.8" y="533.2" font-size="22.0" text-anchor="start" fill="#222" textLength="61.7" lengthAdjust="spacingAndGlyphs" >LFP-2</text>
<text x="848.8" y="562.0" font-size="22.0" text-anchor="start" fill="#222" textLength="59.2" lengthAdjust="spacingAndGlyphs" >LFP-1</text>
<rect x="815.6" y="522.4" width="8.8" height="8.8" fill="#000"/>
<rect x="815.6" y="550.6" width="8.8" height="8.8" fill="#f00"/>
<text x="845.0" y="666.3" font-size="20.0" text-anchor="start" fill="#222" textLength="44.5" lengthAdjust="spacingAndGlyphs" >0.2C</text>
<text x="750.9" y="730.2" font-size="20.0" text-anchor="start" fill="#222" textLength="45.3" lengthAdjust="spacingAndGlyphs" >0.2C</text>
<text x="664.3" y="768.7" font-size="20.0" text-anchor="start" fill="#222" textLength="45.4" lengthAdjust="spacingAndGlyphs" >0.5C</text>
<text x="605.3" y="831.3" font-size="20.0" text-anchor="start" fill="#222" textLength="45.3" lengthAdjust="spacingAndGlyphs" >0.5C</text>
<defs><clipPath id="cclip"><rect x="397.4" y="499" width="542" height="397"/></clipPath></defs>
<g clip-path="url(#cclip)">
<path fill="#000" d="M394.4 537.4h8.5v8.5h-8.5zM394.4 538.4h8.5v8.5h-8.5zM394.4 539.4h8.5v8.5h-8.5zM394.4 540.4h8.5v8.5h-8.5zM394.4 541.4h8.5v8.5h-8.5zM394.4 542.4h8.5v8.5h-8.5zM394.4 543.4h8.5v8.5h-8.5zM394.4 544.4h8.5v8.5h-8.5zM394.4 545.4h8.5v8.5h-8.5zM394.4 546.4h8.5v8.5h-8.5zM394.4 547.4h8.5v8.5h-8.5zM394.4 548.4h8.5v8.5h-8.5zM394.4 549.4h8.5v8.5h-8.5zM394.4 550.4h8.5v8.5h-8.5zM394.4 551.4h8.5v8.5h-8.5zM394.4 552.4h8.5v8.5h-8.5zM394.4 553.4h8.5v8.5h-8.5zM394.4 554.4h8.5v8.5h-8.5zM394.4 555.4h8.5v8.5h-8.5zM394.4 556.4h8.5v8.5h-8.5zM394.4 557.4h8.5v8.5h-8.5zM394.5 558.4h8.5v8.5h-8.5zM394.6 559.4h8.5v8.5h-8.5zM394.8 560.4h8.5v8.5h-8.5zM395.0 561.3h8.5v8.5h-8.5zM395.3 562.3h8.5v8.5h-8.5zM395.6 563.3h8.5v8.5h-8.5zM396.0 564.2h8.5v8.5h-8.5zM396.4 565.1h8.5v8.5h-8.5zM397.0 565.9h8.5v8.5h-8.5zM397.6 566.7h8.5v8.5h-8.5zM398.2 567.5h8.5v8.5h-8.5zM398.9 568.2h8.5v8.5h-8.5zM399.7 568.8h8.5v8.5h-8.5zM400.5 569.3h8.5v8.5h-8.5zM401.4 569.8h8.5v8.5h-8.5zM402.3 570.3h8.5v8.5h-8.5zM403.3 570.6h8.5v8.5h-8.5zM404.2 570.9h8.5v8.5h-8.5zM405.2 571.2h8.5v8.5h-8.5zM406.2 571.4h8.5v8.5h-8.5zM407.1 571.5h8.5v8.5h-8.5zM408.1 571.6h8.5v8.5h-8.5zM409.1 571.7h8.5v8.5h-8.5zM410.1 571.8h8.5v8.5h-8.5zM411.1 571.8h8.5v8.5h-8.5zM412.1 571.9h8.5v8.5h-8.5zM413.1 571.9h8.5v8.5h-8.5zM414.1 572.0h8.5v8.5h-8.5zM415.1 572.0h8.5v8.5h-8.5zM416.1 572.1h8.5v8.5h-8.5zM417.1 572.1h8.5v8.5h-8.5zM418.1 572.2h8.5v8.5h-8.5zM419.1 572.2h8.5v8.5h-8.5zM420.1 572.3h8.5v8.5h-8.5zM421.1 572.3h8.5v8.5h-8.5zM422.1 572.4h8.5v8.5h-8.5zM423.1 572.4h8.5v8.5h-8.5zM424.1 572.4h8.5v8.5h-8.5zM425.1 572.5h8.5v8.5h-8.5zM426.1 572.5h8.5v8.5h-8.5zM427.1 572.6h8.5v8.5h-8.5zM428.1 572.6h8.5v8.5h-8.5zM429.1 572.6h8.5v8.5h-8.5zM430.1 572.7h8.5v8.5h-8.5zM431.1 572.7h8.5v8.5h-8.5zM432.1 572.8h8.5v8.5h-8.5zM433.1 572.8h8.5v8.5h-8.5zM434.1 572.8h8.5v8.5h-8.5zM435.1 572.9h8.5v8.5h-8.5zM436.1 572.9h8.5v8.5h-8.5zM437.1 572.9h8.5v8.5h-8.5zM438.1 573.0h8.5v8.5h-8.5zM439.1 573.0h8.5v8.5h-8.5zM440.1 573.0h8.5v8.5h-8.5zM441.1 573.1h8.5v8.5h-8.5zM442.1 573.1h8.5v8.5h-8.5zM443.1 573.1h8.5v8.5h-8.5zM444.1 573.1h8.5v8.5h-8.5zM445.1 573.2h8.5v8.5h-8.5zM446.1 573.2h8.5v8.5h-8.5zM447.1 573.2h8.5v8.5h-8.5zM448.1 573.3h8.5v8.5h-8.5zM449.1 573.3h8.5v8.5h-8.5zM450.1 573.3h8.5v8.5h-8.5zM451.1 573.3h8.5v8.5h-8.5zM452.1 573.4h8.5v8.5h-8.5zM453.1 573.4h8.5v8.5h-8.5zM454.1 573.4h8.5v8.5h-8.5zM455.1 573.4h8.5v8.5h-8.5zM456.1 573.5h8.5v8.5h-8.5zM457.1 573.5h8.5v8.5h-8.5zM458.1 573.5h8.5v8.5h-8.5zM459.1 573.5h8.5v8.5h-8.5zM460.1 573.6h8.5v8.5h-8.5zM461.1 573.6h8.5v8.5h-8.5zM462.1 573.6h8.5v8.5h-8.5zM463.1 573.6h8.5v8.5h-8.5zM464.1 573.7h8.5v8.5h-8.5zM465.1 573.7h8.5v8.5h-8.5zM466.1 573.7h8.5v8.5h-8.5zM467.1 573.7h8.5v8.5h-8.5zM468.1 573.8h8.5v8.5h-8.5zM469.1 573.8h8.5v8.5h-8.5zM470.1 573.8h8.5v8.5h-8.5zM471.1 573.8h8.5v8.5h-8.5zM472.1 573.9h8.5v8.5h-8.5zM473.1 573.9h8.5v8.5h-8.5zM474.1 573.9h8.5v8.5h-8.5zM475.1 573.9h8.5v8.5h-8.5zM476.1 573.9h8.5v8.5h-8.5zM477.1 574.0h8.5v8.5h-8.5zM478.1 574.0h8.5v8.5h-8.5zM479.1 574.0h8.5v8.5h-8.5zM480.1 574.0h8.5v8.5h-8.5zM481.1 574.1h8.5v8.5h-8.5zM482.1 574.1h8.5v8.5h-8.5zM483.1 574.1h8.5v8.5h-8.5zM484.1 574.1h8.5v8.5h-8.5zM485.1 574.1h8.5v8.5h-8.5zM486.1 574.2h8.5v8.5h-8.5zM487.1 574.2h8.5v8.5h-8.5zM488.1 574.2h8.5v8.5h-8.5zM489.1 574.2h8.5v8.5h-8.5zM490.1 574.3h8.5v8.5h-8.5zM491.1 574.3h8.5v8.5h-8.5zM492.1 574.3h8.5v8.5h-8.5zM493.1 574.3h8.5v8.5h-8.5zM494.1 574.4h8.5v8.5h-8.5zM495.1 574.4h8.5v8.5h-8.5zM496.1 574.4h8.5v8.5h-8.5zM497.1 574.4h8.5v8.5h-8.5zM498.1 574.5h8.5v8.5h-8.5zM499.1 574.5h8.5v8.5h-8.5zM500.1 574.5h8.5v8.5h-8.5zM501.1 574.5h8.5v8.5h-8.5zM502.1 574.6h8.5v8.5h-8.5zM503.1 574.6h8.5v8.5h-8.5zM504.1 574.6h8.5v8.5h-8.5zM505.1 574.7h8.5v8.5h-8.5zM506.1 574.7h8.5v8.5h-8.5zM507.1 574.7h8.5v8.5h-8.5zM508.1 574.7h8.5v8.5h-8.5zM509.1 574.8h8.5v8.5h-8.5zM510.1 574.8h8.5v8.5h-8.5zM511.1 574.8h8.5v8.5h-8.5zM512.1 574.9h8.5v8.5h-8.5zM513.1 574.9h8.5v8.5h-8.5zM514.1 574.9h8.5v8.5h-8.5zM515.1 574.9h8.5v8.5h-8.5zM516.1 575.0h8.5v8.5h-8.5zM517.1 575.0h8.5v8.5h-8.5zM518.1 575.0h8.5v8.5h-8.5zM519.1 575.1h8.5v8.5h-8.5zM520.1 575.1h8.5v8.5h-8.5zM521.1 575.2h8.5v8.5h-8.5zM522.1 575.2h8.5v8.5h-8.5zM523.1 575.2h8.5v8.5h-8.5zM524.1 575.3h8.5v8.5h-8.5zM525.1 575.3h8.5v8.5h-8.5zM526.1 575.3h8.5v8.5h-8.5zM527.1 575.4h8.5v8.5h-8.5zM528.1 575.4h8.5v8.5h-8.5zM529.1 575.5h8.5v8.5h-8.5zM530.1 575.5h8.5v8.5h-8.5zM531.1 575.5h8.5v8.5h-8.5zM532.1 575.6h8.5v8.5h-8.5zM533.1 575.6h8.5v8.5h-8.5zM534.1 575.7h8.5v8.5h-8.5zM535.1 575.7h8.5v8.5h-8.5zM536.1 575.8h8.5v8.5h-8.5zM537.1 575.8h8.5v8.5h-8.5zM538.1 575.8h8.5v8.5h-8.5zM539.1 575.9h8.5v8.5h-8.5zM540.1 575.9h8.5v8.5h-8.5zM541.1 576.0h8.5v8.5h-8.5zM542.1 576.0h8.5v8.5h-8.5zM543.1 576.1h8.5v8.5h-8.5zM544.1 576.1h8.5v8.5h-8.5zM545.1 576.2h8.5v8.5h-8.5zM546.1 576.2h8.5v8.5h-8.5zM547.1 576.3h8.5v8.5h-8.5zM548.0 576.3h8.5v8.5h-8.5zM549.0 576.4h8.5v8.5h-8.5zM550.0 576.5h8.5v8.5h-8.5zM551.0 576.5h8.5v8.5h-8.5zM552.0 576.6h8.5v8.5h-8.5zM553.0 576.6h8.5v8.5h-8.5zM554.0 576.7h8.5v8.5h-8.5zM555.0 576.8h8.5v8.5h-8.5zM556.0 576.8h8.5v8.5h-8.5zM557.0 576.9h8.5v8.5h-8.5zM558.0 576.9h8.5v8.5h-8.5zM559.0 577.0h8.5v8.5h-8.5zM560.0 577.1h8.5v8.5h-8.5zM561.0 577.1h8.5v8.5h-8.5zM562.0 577.2h8.5v8.5h-8.5zM563.0 577.3h8.5v8.5h-8.5zM564.0 577.3h8.5v8.5h-8.5zM565.0 577.4h8.5v8.5h-8.5zM566.0 577.5h8.5v8.5h-8.5zM567.0 577.6h8.5v8.5h-8.5zM568.0 577.6h8.5v8.5h-8.5zM569.0 577.7h8.5v8.5h-8.5zM570.0 577.8h8.5v8.5h-8.5zM571.0 577.9h8.5v8.5h-8.5zM572.0 577.9h8.5v8.5h-8.5zM573.0 578.0h8.5v8.5h-8.5zM574.0 578.1h8.5v8.5h-8.5zM575.0 578.2h8.5v8.5h-8.5zM576.0 578.3h8.5v8.5h-8.5zM577.0 578.3h8.5v8.5h-8.5zM578.0 578.4h8.5v8.5h-8.5zM579.0 578.5h8.5v8.5h-8.5zM580.0 578.6h8.5v8.5h-8.5zM581.0 578.7h8.5v8.5h-8.5zM582.0 578.8h8.5v8.5h-8.5zM583.0 578.9h8.5v8.5h-8.5zM584.0 579.0h8.5v8.5h-8.5zM584.9 579.1h8.5v8.5h-8.5zM585.9 579.2h8.5v8.5h-8.5zM586.9 579.3h8.5v8.5h-8.5zM587.9 579.4h8.5v8.5h-8.5zM588.9 579.5h8.5v8.5h-8.5zM589.9 579.6h8.5v8.5h-8.5zM590.9 579.7h8.5v8.5h-8.5zM591.9 579.8h8.5v8.5h-8.5zM592.9 579.9h8.5v8.5h-8.5zM593.9 580.0h8.5v8.5h-8.5zM594.9 580.1h8.5v8.5h-8.5zM595.9 580.2h8.5v8.5h-8.5zM596.9 580.3h8.5v8.5h-8.5zM597.9 580.4h8.5v8.5h-8.5zM598.9 580.5h8.5v8.5h-8.5zM599.9 580.7h8.5v8.5h-8.5zM600.9 580.8h8.5v8.5h-8.5zM601.8 580.9h8.5v8.5h-8.5zM602.8 581.0h8.5v8.5h-8.5zM603.8 581.1h8.5v8.5h-8.5zM604.8 581.3h8.5v8.5h-8.5zM605.8 581.4h8.5v8.5h-8.5zM606.8 581.5h8.5v8.5h-8.5zM607.8 581.7h8.5v8.5h-8.5zM608.8 581.8h8.5v8.5h-8.5zM609.8 581.9h8.5v8.5h-8.5zM610.8 582.1h8.5v8.5h-8.5zM611.8 582.2h8.5v8.5h-8.5zM612.8 582.3h8.5v8.5h-8.5zM613.7 582.5h8.5v8.5h-8.5zM614.7 582.6h8.5v8.5h-8.5zM615.7 582.7h8.5v8.5h-8.5zM616.7 582.9h8.5v8.5h-8.5zM617.7 583.0h8.5v8.5h-8.5zM618.7 583.2h8.5v8.5h-8.5zM619.7 583.3h8.5v8.5h-8.5zM620.7 583.5h8.5v8.5h-8.5zM621.7 583.6h8.5v8.5h-8.5zM622.6 583.8h8.5v8.5h-8.5zM623.6 584.0h8.5v8.5h-8.5zM624.6 584.1h8.5v8.5h-8.5zM625.6 584.3h8.5v8.5h-8.5zM626.6 584.4h8.5v8.5h-8.5zM627.6 584.6h8.5v8.5h-8.5zM628.6 584.8h8.5v8.5h-8.5zM629.5 584.9h8.5v8.5h-8.5zM630.5 585.1h8.5v8.5h-8.5zM631.5 585.3h8.5v8.5h-8.5zM632.5 585.5h8.5v8.5h-8.5zM633.5 585.6h8.5v8.5h-8.5zM634.5 585.8h8.5v8.5h-8.5zM635.5 586.0h8.5v8.5h-8.5zM636.4 586.2h8.5v8.5h-8.5zM637.4 586.4h8.5v8.5h-8.5zM638.4 586.6h8.5v8.5h-8.5zM639.4 586.8h8.5v8.5h-8.5zM640.4 586.9h8.5v8.5h-8.5zM641.3 587.1h8.5v8.5h-8.5zM642.3 587.3h8.5v8.5h-8.5zM643.3 587.5h8.5v8.5h-8.5zM644.3 587.7h8.5v8.5h-8.5zM645.3 587.9h8.5v8.5h-8.5zM646.2 588.1h8.5v8.5h-8.5zM647.2 588.4h8.5v8.5h-8.5zM648.2 588.6h8.5v8.5h-8.5zM649.2 588.8h8.5v8.5h-8.5zM650.2 589.0h8.5v8.5h-8.5zM651.1 589.2h8.5v8.5h-8.5zM652.1 589.4h8.5v8.5h-8.5zM653.1 589.6h8.5v8.5h-8.5zM654.1 589.9h8.5v8.5h-8.5zM655.0 590.1h8.5v8.5h-8.5zM656.0 590.3h8.5v8.5h-8.5zM657.0 590.6h8.5v8.5h-8.5zM657.9 590.8h8.5v8.5h-8.5zM658.9 591.0h8.5v8.5h-8.5zM659.9 591.3h8.5v8.5h-8.5zM660.9 591.5h8.5v8.5h-8.5zM661.8 591.8h8.5v8.5h-8.5zM662.8 592.0h8.5v8.5h-8.5zM663.8 592.2h8.5v8.5h-8.5zM664.7 592.5h8.5v8.5h-8.5zM665.7 592.8h8.5v8.5h-8.5zM666.7 593.0h8.5v8.5h-8.5zM667.6 593.3h8.5v8.5h-8.5zM668.6 593.5h8.5v8.5h-8.5zM669.6 593.8h8.5v8.5h-8.5zM670.5 594.1h8.5v8.5h-8.5zM671.5 594.3h8.5v8.5h-8.5zM672.5 594.6h8.5v8.5h-8.5zM673.4 594.9h8.5v8.5h-8.5zM674.4 595.2h8.5v8.5h-8.5zM675.3 595.4h8.5v8.5h-8.5zM676.3 595.7h8.5v8.5h-8.5zM677.3 596.0h8.5v8.5h-8.5zM678.2 596.3h8.5v8.5h-8.5zM679.2 596.6h8.5v8.5h-8.5zM680.1 596.9h8.5v8.5h-8.5zM681.1 597.2h8.5v8.5h-8.5zM682.0 597.5h8.5v8.5h-8.5zM683.0 597.8h8.5v8.5h-8.5zM683.9 598.1h8.5v8.5h-8.5zM684.9 598.4h8.5v8.5h-8.5zM685.8 598.7h8.5v8.5h-8.5zM686.8 599.0h8.5v8.5h-8.5zM687.7 599.3h8.5v8.5h-8.5zM688.7 599.7h8.5v8.5h-8.5zM689.6 600.0h8.5v8.5h-8.5zM690.6 600.3h8.5v8.5h-8.5zM691.5 600.6h8.5v8.5h-8.5zM692.5 601.0h8.5v8.5h-8.5zM693.4 601.3h8.5v8.5h-8.5zM694.3 601.7h8.5v8.5h-8.5zM695.3 602.0h8.5v8.5h-8.5zM696.2 602.3h8.5v8.5h-8.5zM697.2 602.7h8.5v8.5h-8.5zM698.1 603.0h8.5v8.5h-8.5zM699.0 603.4h8.5v8.5h-8.5zM700.0 603.8h8.5v8.5h-8.5zM700.9 604.1h8.5v8.5h-8.5zM701.8 604.5h8.5v8.5h-8.5zM702.8 604.9h8.5v8.5h-8.5zM703.7 605.2h8.5v8.5h-8.5zM704.6 605.6h8.5v8.5h-8.5zM705.5 606.0h8.5v8.5h-8.5zM706.5 606.4h8.5v8.5h-8.5zM707.4 606.7h8.5v8.5h-8.5zM708.3 607.1h8.5v8.5h-8.5zM709.2 607.5h8.5v8.5h-8.5zM710.1 607.9h8.5v8.5h-8.5zM711.1 608.3h8.5v8.5h-8.5zM712.0 608.7h8.5v8.5h-8.5zM712.9 609.1h8.5v8.5h-8.5zM713.8 609.5h8.5v8.5h-8.5zM714.7 609.9h8.5v8.5h-8.5zM715.6 610.3h8.5v8.5h-8.5zM716.5 610.8h8.5v8.5h-8.5zM717.4 611.2h8.5v8.5h-8.5zM718.4 611.6h8.5v8.5h-8.5zM719.3 612.0h8.5v8.5h-8.5zM720.2 612.5h8.5v8.5h-8.5zM721.1 612.9h8.5v8.5h-8.5zM722.0 613.3h8.5v8.5h-8.5zM722.9 613.8h8.5v8.5h-8.5zM723.8 614.2h8.5v8.5h-8.5zM724.6 614.7h8.5v8.5h-8.5zM725.5 615.1h8.5v8.5h-8.5zM726.4 615.6h8.5v8.5h-8.5zM727.3 616.0h8.5v8.5h-8.5zM728.2 616.5h8.5v8.5h-8.5zM729.1 617.0h8.5v8.5h-8.5zM730.0 617.4h8.5v8.5h-8.5zM730.9 617.9h8.5v8.5h-8.5zM731.7 618.4h8.5v8.5h-8.5zM732.6 618.9h8.5v8.5h-8.5zM733.5 619.4h8.5v8.5h-8.5zM734.4 619.8h8.5v8.5h-8.5zM735.2 620.3h8.5v8.5h-8.5zM736.1 620.8h8.5v8.5h-8.5zM737.0 621.3h8.5v8.5h-8.5zM737.8 621.8h8.5v8.5h-8.5zM738.7 622.3h8.5v8.5h-8.5zM739.5 622.8h8.5v8.5h-8.5zM740.4 623.4h8.5v8.5h-8.5zM741.3 623.9h8.5v8.5h-8.5zM742.1 624.4h8.5v8.5h-8.5zM743.0 624.9h8.5v8.5h-8.5zM743.8 625.5h8.5v8.5h-8.5zM744.7 626.0h8.5v8.5h-8.5zM745.5 626.5h8.5v8.5h-8.5zM746.4 627.1h8.5v8.5h-8.5zM747.2 627.6h8.5v8.5h-8.5zM748.0 628.1h8.5v8.5h-8.5zM748.9 628.7h8.5v8.5h-8.5zM749.7 629.2h8.5v8.5h-8.5zM750.5 629.8h8.5v8.5h-8.5zM751.4 630.4h8.5v8.5h-8.5zM752.2 630.9h8.5v8.5h-8.5zM753.0 631.5h8.5v8.5h-8.5zM753.8 632.1h8.5v8.5h-8.5zM754.6 632.6h8.5v8.5h-8.5zM755.5 633.2h8.5v8.5h-8.5zM756.3 633.8h8.5v8.5h-8.5zM757.1 634.4h8.5v8.5h-8.5zM757.9 635.0h8.5v8.5h-8.5zM758.7 635.6h8.5v8.5h-8.5zM759.5 636.2h8.5v8.5h-8.5zM760.3 636.8h8.5v8.5h-8.5zM761.1 637.4h8.5v8.5h-8.5zM761.9 638.0h8.5v8.5h-8.5zM762.7 638.6h8.5v8.5h-8.5zM763.5 639.2h8.5v8.5h-8.5zM764.2 639.8h8.5v8.5h-8.5zM765.0 640.5h8.5v8.5h-8.5zM765.8 641.1h8.5v8.5h-8.5zM766.6 641.7h8.5v8.5h-8.5zM767.4 642.4h8.5v8.5h-8.5zM768.1 643.0h8.5v8.5h-8.5zM768.9 643.6h8.5v8.5h-8.5zM769.7 644.3h8.5v8.5h-8.5zM770.4 644.9h8.5v8.5h-8.5zM771.2 645.6h8.5v8.5h-8.5zM771.9 646.2h8.5v8.5h-8.5zM772.7 646.9h8.5v8.5h-8.5zM773.5 647.5h8.5v8.5h-8.5zM774.2 648.2h8.5v8.5h-8.5zM774.9 648.9h8.5v8.5h-8.5zM775.7 649.5h8.5v8.5h-8.5zM776.4 650.2h8.5v8.5h-8.5zM777.2 650.9h8.5v8.5h-8.5zM777.9 651.6h8.5v8.5h-8.5zM778.6 652.2h8.5v8.5h-8.5zM779.4 652.9h8.5v8.5h-8.5zM780.1 653.6h8.5v8.5h-8.5zM780.8 654.3h8.5v8.5h-8.5zM781.5 655.0h8.5v8.5h-8.5zM782.3 655.7h8.5v8.5h-8.5zM783.0 656.4h8.5v8.5h-8.5zM783.7 657.1h8.5v8.5h-8.5zM784.4 657.8h8.5v8.5h-8.5zM785.1 658.5h8.5v8.5h-8.5zM785.8 659.2h8.5v8.5h-8.5zM786.5 659.9h8.5v8.5h-8.5zM787.2 660.6h8.5v8.5h-8.5zM787.9 661.3h8.5v8.5h-8.5zM788.6 662.1h8.5v8.5h-8.5zM789.3 662.8h8.5v8.5h-8.5zM790.0 663.5h8.5v8.5h-8.5zM790.7 664.2h8.5v8.5h-8.5zM791.3 665.0h8.5v8.5h-8.5zM792.0 665.7h8.5v8.5h-8.5zM792.7 666.4h8.5v8.5h-8.5zM793.4 667.2h8.5v8.5h-8.5zM794.1 667.9h8.5v8.5h-8.5zM794.7 668.7h8.5v8.5h-8.5zM795.4 669.4h8.5v8.5h-8.5zM796.0 670.2h8.5v8.5h-8.5zM796.7 670.9h8.5v8.5h-8.5zM797.4 671.7h8.5v8.5h-8.5zM798.0 672.4h8.5v8.5h-8.5zM798.7 673.2h8.5v8.5h-8.5zM799.3 673.9h8.5v8.5h-8.5zM800.0 674.7h8.5v8.5h-8.5zM800.6 675.5h8.5v8.5h-8.5zM801.3 676.2h8.5v8.5h-8.5zM801.9 677.0h8.5v8.5h-8.5zM802.5 677.8h8.5v8.5h-8.5zM803.2 678.5h8.5v8.5h-8.5zM803.8 679.3h8.5v8.5h-8.5zM804.4 680.1h8.5v8.5h-8.5zM805.0 680.9h8.5v8.5h-8.5zM805.7 681.7h8.5v8.5h-8.5zM806.3 682.5h8.5v8.5h-8.5zM806.9 683.2h8.5v8.5h-8.5zM807.5 684.0h8.5v8.5h-8.5zM808.1 684.8h8.5v8.5h-8.5zM808.7 685.6h8.5v8.5h-8.5zM809.3 686.4h8.5v8.5h-8.5zM809.9 687.2h8.5v8.5h-8.5zM810.6 688.0h8.5v8.5h-8.5zM811.1 688.8h8.5v8.5h-8.5zM811.7 689.6h8.5v8.5h-8.5zM812.3 690.4h8.5v8.5h-8.5zM812.9 691.2h8.5v8.5h-8.5zM813.5 692.0h8.5v8.5h-8.5zM814.1 692.8h8.5v8.5h-8.5zM814.7 693.7h8.5v8.5h-8.5zM815.3 694.5h8.5v8.5h-8.5zM815.8 695.3h8.5v8.5h-8.5zM816.4 696.1h8.5v8.5h-8.5zM817.0 696.9h8.5v8.5h-8.5zM817.5 697.8h8.5v8.5h-8.5zM818.1 698.6h8.5v8.5h-8.5zM818.7 699.4h8.5v8.5h-8.5zM819.2 700.2h8.5v8.5h-8.5zM819.8 701.1h8.5v8.5h-8.5zM820.3 701.9h8.5v8.5h-8.5zM820.9 702.7h8.5v8.5h-8.5zM821.4 703.6h8.5v8.5h-8.5zM822.0 704.4h8.5v8.5h-8.5zM822.5 705.2h8.5v8.5h-8.5zM823.1 706.1h8.5v8.5h-8.5zM823.6 706.9h8.5v8.5h-8.5zM824.1 707.8h8.5v8.5h-8.5zM824.7 708.6h8.5v8.5h-8.5zM825.2 709.5h8.5v8.5h-8.5zM825.7 710.3h8.5v8.5h-8.5zM826.3 711.2h8.5v8.5h-8.5zM826.8 712.0h8.5v8.5h-8.5zM827.3 712.9h8.5v8.5h-8.5zM827.8 713.7h8.5v8.5h-8.5zM828.3 714.6h8.5v8.5h-8.5zM828.8 715.5h8.5v8.5h-8.5zM829.4 716.3h8.5v8.5h-8.5zM829.9 717.2h8.5v8.5h-8.5zM830.4 718.0h8.5v8.5h-8.5zM830.9 718.9h8.5v8.5h-8.5zM831.4 719.8h8.5v8.5h-8.5zM831.9 720.6h8.5v8.5h-8.5zM832.4 721.5h8.5v8.5h-8.5zM832.8 722.4h8.5v8.5h-8.5zM833.3 723.3h8.5v8.5h-8.5zM833.8 724.1h8.5v8.5h-8.5zM834.3 725.0h8.5v8.5h-8.5zM834.8 725.9h8.5v8.5h-8.5zM835.2 726.8h8.5v8.5h-8.5zM835.7 727.6h8.5v8.5h-8.5zM836.2 728.5h8.5v8.5h-8.5zM836.7 729.4h8.5v8.5h-8.5zM837.1 730.3h8.5v8.5h-8.5zM837.6 731.2h8.5v8.5h-8.5zM838.0 732.1h8.5v8.5h-8.5zM838.5 733.0h8.5v8.5h-8.5zM839.0 733.9h8.5v8.5h-8.5zM839.4 734.7h8.5v8.5h-8.5zM839.9 735.6h8.5v8.5h-8.5zM840.3 736.5h8.5v8.5h-8.5zM840.8 737.4h8.5v8.5h-8.5zM841.2 738.3h8.5v8.5h-8.5zM841.6 739.2h8.5v8.5h-8.5zM842.1 740.1h8.5v8.5h-8.5zM842.5 741.0h8.5v8.5h-8.5zM842.9 741.9h8.5v8.5h-8.5zM843.4 742.8h8.5v8.5h-8.5zM843.8 743.7h8.5v8.5h-8.5zM844.2 744.6h8.5v8.5h-8.5zM844.6 745.6h8.5v8.5h-8.5zM845.0 746.5h8.5v8.5h-8.5zM845.5 747.4h8.5v8.5h-8.5zM845.9 748.3h8.5v8.5h-8.5zM846.3 749.2h8.5v8.5h-8.5zM846.7 750.1h8.5v8.5h-8.5zM847.1 751.0h8.5v8.5h-8.5zM847.5 751.9h8.5v8.5h-8.5zM847.9 752.9h8.5v8.5h-8.5zM848.3 753.8h8.5v8.5h-8.5zM848.7 754.7h8.5v8.5h-8.5zM849.0 755.6h8.5v8.5h-8.5zM849.4 756.5h8.5v8.5h-8.5zM849.8 757.5h8.5v8.5h-8.5zM850.2 758.4h8.5v8.5h-8.5zM850.6 759.3h8.5v8.5h-8.5zM851.0 760.2h8.5v8.5h-8.5zM851.3 761.2h8.5v8.5h-8.5zM851.7 762.1h8.5v8.5h-8.5zM852.1 763.0h8.5v8.5h-8.5zM852.4 764.0h8.5v8.5h-8.5zM852.8 764.9h8.5v8.5h-8.5zM853.1 765.8h8.5v8.5h-8.5zM853.5 766.8h8.5v8.5h-8.5zM853.8 767.7h8.5v8.5h-8.5zM854.2 768.6h8.5v8.5h-8.5zM854.5 769.6h8.5v8.5h-8.5zM854.9 770.5h8.5v8.5h-8.5zM855.2 771.5h8.5v8.5h-8.5zM855.6 772.4h8.5v8.5h-8.5zM855.9 773.3h8.5v8.5h-8.5zM856.2 774.3h8.5v8.5h-8.5zM856.6 775.2h8.5v8.5h-8.5zM856.9 776.2h8.5v8.5h-8.5zM857.2 777.1h8.5v8.5h-8.5zM857.5 778.1h8.5v8.5h-8.5zM857.9 779.0h8.5v8.5h-8.5zM858.2 780.0h8.5v8.5h-8.5zM858.5 780.9h8.5v8.5h-8.5zM858.8 781.9h8.5v8.5h-8.5zM859.1 782.8h8.5v8.5h-8.5zM859.4 783.8h8.5v8.5h-8.5zM859.7 784.7h8.5v8.5h-8.5zM860.0 785.7h8.5v8.5h-8.5zM860.3 786.6h8.5v8.5h-8.5zM860.6 787.6h8.5v8.5h-8.5zM860.9 788.5h8.5v8.5h-8.5zM861.2 789.5h8.5v8.5h-8.5zM861.5 790.4h8.5v8.5h-8.5zM861.8 791.4h8.5v8.5h-8.5zM862.1 792.4h8.5v8.5h-8.5zM862.4 793.3h8.5v8.5h-8.5zM862.7 794.3h8.5v8.5h-8.5zM863.0 795.2h8.5v8.5h-8.5zM863.2 796.2h8.5v8.5h-8.5zM863.5 797.1h8.5v8.5h-8.5zM863.8 798.1h8.5v8.5h-8.5zM864.1 799.1h8.5v8.5h-8.5zM864.3 800.0h8.5v8.5h-8.5zM864.6 801.0h8.5v8.5h-8.5zM864.9 802.0h8.5v8.5h-8.5zM865.1 802.9h8.5v8.5h-8.5zM865.4 803.9h8.5v8.5h-8.5zM865.7 804.9h8.5v8.5h-8.5zM865.9 805.8h8.5v8.5h-8.5zM866.2 806.8h8.5v8.5h-8.5zM866.4 807.8h8.5v8.5h-8.5zM866.7 808.7h8.5v8.5h-8.5zM866.9 809.7h8.5v8.5h-8.5zM867.2 810.7h8.5v8.5h-8.5zM867.4 811.6h8.5v8.5h-8.5zM867.7 812.6h8.5v8.5h-8.5zM867.9 813.6h8.5v8.5h-8.5zM868.2 814.5h8.5v8.5h-8.5zM868.4 815.5h8.5v8.5h-8.5zM868.7 816.5h8.5v8.5h-8.5zM868.9 817.4h8.5v8.5h-8.5zM869.1 818.4h8.5v8.5h-8.5zM869.4 819.4h8.5v8.5h-8.5zM869.6 820.4h8.5v8.5h-8.5zM869.8 821.3h8.5v8.5h-8.5zM870.1 822.3h8.5v8.5h-8.5zM870.3 823.3h8.5v8.5h-8.5zM870.5 824.3h8.5v8.5h-8.5zM870.8 825.2h8.5v8.5h-8.5zM871.0 826.2h8.5v8.5h-8.5zM871.2 827.2h8.5v8.5h-8.5zM871.4 828.1h8.5v8.5h-8.5zM871.7 829.1h8.5v8.5h-8.5zM871.9 830.1h8.5v8.5h-8.5zM872.1 831.1h8.5v8.5h-8.5zM872.3 832.0h8.5v8.5h-8.5zM872.5 833.0h8.5v8.5h-8.5zM872.8 834.0h8.5v8.5h-8.5zM873.0 835.0h8.5v8.5h-8.5zM873.2 836.0h8.5v8.5h-8.5zM873.4 836.9h8.5v8.5h-8.5zM873.6 837.9h8.5v8.5h-8.5zM873.8 838.9h8.5v8.5h-8.5zM874.0 839.9h8.5v8.5h-8.5zM874.3 840.8h8.5v8.5h-8.5zM874.5 841.8h8.5v8.5h-8.5zM874.7 842.8h8.5v8.5h-8.5zM874.9 843.8h8.5v8.5h-8.5zM875.1 844.8h8.5v8.5h-8.5zM875.3 845.7h8.5v8.5h-8.5zM875.5 846.7h8.5v8.5h-8.5z"/>
<path fill="#000" d="M394.4 608.0h8.5v8.5h-8.5zM394.4 609.0h8.5v8.5h-8.5zM394.4 610.0h8.5v8.5h-8.5zM394.4 611.0h8.5v8.5h-8.5zM394.4 612.0h8.5v8.5h-8.5zM394.4 613.0h8.5v8.5h-8.5zM394.4 614.0h8.5v8.5h-8.5zM394.4 615.0h8.5v8.5h-8.5zM394.4 616.0h8.5v8.5h-8.5zM394.4 617.0h8.5v8.5h-8.5zM394.4 618.0h8.5v8.5h-8.5zM394.4 619.0h8.5v8.5h-8.5zM394.4 620.0h8.5v8.5h-8.5zM394.4 621.0h8.5v8.5h-8.5zM394.4 622.0h8.5v8.5h-8.5zM394.4 623.0h8.5v8.5h-8.5zM394.4 624.0h8.5v8.5h-8.5zM394.4 625.0h8.5v8.5h-8.5zM394.5 626.0h8.5v8.5h-8.5zM394.6 627.0h8.5v8.5h-8.5zM394.9 628.0h8.5v8.5h-8.5zM395.2 628.9h8.5v8.5h-8.5zM395.6 629.8h8.5v8.5h-8.5zM396.0 630.7h8.5v8.5h-8.5zM396.6 631.5h8.5v8.5h-8.5zM397.2 632.3h8.5v8.5h-8.5zM397.9 633.0h8.5v8.5h-8.5zM398.7 633.7h8.5v8.5h-8.5zM399.5 634.3h8.5v8.5h-8.5zM400.3 634.8h8.5v8.5h-8.5zM401.2 635.2h8.5v8.5h-8.5zM402.1 635.6h8.5v8.5h-8.5zM403.1 636.0h8.5v8.5h-8.5zM404.0 636.3h8.5v8.5h-8.5zM405.0 636.5h8.5v8.5h-8.5zM406.0 636.7h8.5v8.5h-8.5zM407.0 636.9h8.5v8.5h-8.5zM407.9 637.1h8.5v8.5h-8.5zM408.9 637.2h8.5v8.5h-8.5zM409.9 637.3h8.5v8.5h-8.5zM410.9 637.5h8.5v8.5h-8.5zM411.9 637.7h8.5v8.5h-8.5zM412.9 637.8h8.5v8.5h-8.5zM413.9 638.0h8.5v8.5h-8.5zM414.9 638.2h8.5v8.5h-8.5zM415.8 638.4h8.5v8.5h-8.5zM416.8 638.5h8.5v8.5h-8.5zM417.8 638.7h8.5v8.5h-8.5zM418.8 638.9h8.5v8.5h-8.5zM419.8 639.1h8.5v8.5h-8.5zM420.8 639.3h8.5v8.5h-8.5zM421.7 639.4h8.5v8.5h-8.5zM422.7 639.6h8.5v8.5h-8.5zM423.7 639.8h8.5v8.5h-8.5zM424.7 640.0h8.5v8.5h-8.5zM425.7 640.2h8.5v8.5h-8.5zM426.6 640.4h8.5v8.5h-8.5zM427.6 640.6h8.5v8.5h-8.5zM428.6 640.8h8.5v8.5h-8.5zM429.6 641.0h8.5v8.5h-8.5zM430.6 641.2h8.5v8.5h-8.5zM431.5 641.4h8.5v8.5h-8.5zM432.5 641.7h8.5v8.5h-8.5zM433.5 641.9h8.5v8.5h-8.5zM434.5 642.1h8.5v8.5h-8.5zM435.4 642.3h8.5v8.5h-8.5zM436.4 642.5h8.5v8.5h-8.5zM437.4 642.8h8.5v8.5h-8.5zM438.4 643.0h8.5v8.5h-8.5zM439.3 643.2h8.5v8.5h-8.5zM440.3 643.4h8.5v8.5h-8.5zM441.3 643.7h8.5v8.5h-8.5zM442.3 643.9h8.5v8.5h-8.5zM443.2 644.1h8.5v8.5h-8.5zM444.2 644.4h8.5v8.5h-8.5zM445.2 644.6h8.5v8.5h-8.5zM446.1 644.9h8.5v8.5h-8.5zM447.1 645.1h8.5v8.5h-8.5zM448.1 645.3h8.5v8.5h-8.5zM449.1 645.6h8.5v8.5h-8.5zM450.0 645.9h8.5v8.5h-8.5zM451.0 646.1h8.5v8.5h-8.5zM452.0 646.4h8.5v8.5h-8.5zM452.9 646.6h8.5v8.5h-8.5zM453.9 646.9h8.5v8.5h-8.5zM454.9 647.1h8.5v8.5h-8.5zM455.8 647.4h8.5v8.5h-8.5zM456.8 647.7h8.5v8.5h-8.5zM457.7 647.9h8.5v8.5h-8.5zM458.7 648.2h8.5v8.5h-8.5zM459.7 648.5h8.5v8.5h-8.5zM460.6 648.8h8.5v8.5h-8.5zM461.6 649.0h8.5v8.5h-8.5zM462.5 649.3h8.5v8.5h-8.5zM463.5 649.6h8.5v8.5h-8.5zM464.5 649.9h8.5v8.5h-8.5zM465.4 650.2h8.5v8.5h-8.5zM466.4 650.5h8.5v8.5h-8.5zM467.3 650.8h8.5v8.5h-8.5zM468.3 651.1h8.5v8.5h-8.5zM469.2 651.4h8.5v8.5h-8.5zM470.2 651.7h8.5v8.5h-8.5zM471.2 652.0h8.5v8.5h-8.5zM472.1 652.3h8.5v8.5h-8.5zM473.1 652.6h8.5v8.5h-8.5zM474.0 652.9h8.5v8.5h-8.5zM475.0 653.2h8.5v8.5h-8.5zM475.9 653.5h8.5v8.5h-8.5zM476.9 653.8h8.5v8.5h-8.5zM477.8 654.1h8.5v8.5h-8.5zM478.8 654.4h8.5v8.5h-8.5zM479.7 654.8h8.5v8.5h-8.5zM480.6 655.1h8.5v8.5h-8.5zM481.6 655.4h8.5v8.5h-8.5zM482.5 655.7h8.5v8.5h-8.5zM483.5 656.1h8.5v8.5h-8.5zM484.4 656.4h8.5v8.5h-8.5zM485.4 656.7h8.5v8.5h-8.5zM486.3 657.1h8.5v8.5h-8.5zM487.2 657.4h8.5v8.5h-8.5zM488.2 657.8h8.5v8.5h-8.5zM489.1 658.1h8.5v8.5h-8.5zM490.1 658.5h8.5v8.5h-8.5zM491.0 658.8h8.5v8.5h-8.5zM491.9 659.2h8.5v8.5h-8.5zM492.9 659.5h8.5v8.5h-8.5zM493.8 659.9h8.5v8.5h-8.5zM494.7 660.2h8.5v8.5h-8.5zM495.7 660.6h8.5v8.5h-8.5zM496.6 660.9h8.5v8.5h-8.5zM497.5 661.3h8.5v8.5h-8.5zM498.5 661.7h8.5v8.5h-8.5zM499.4 662.0h8.5v8.5h-8.5zM500.3 662.4h8.5v8.5h-8.5zM501.3 662.8h8.5v8.5h-8.5zM502.2 663.2h8.5v8.5h-8.5zM503.1 663.5h8.5v8.5h-8.5zM504.0 663.9h8.5v8.5h-8.5zM505.0 664.3h8.5v8.5h-8.5zM505.9 664.7h8.5v8.5h-8.5zM506.8 665.1h8.5v8.5h-8.5zM507.7 665.5h8.5v8.5h-8.5zM508.6 665.9h8.5v8.5h-8.5zM509.6 666.3h8.5v8.5h-8.5zM510.5 666.7h8.5v8.5h-8.5zM511.4 667.1h8.5v8.5h-8.5zM512.3 667.5h8.5v8.5h-8.5zM513.2 667.9h8.5v8.5h-8.5zM514.1 668.3h8.5v8.5h-8.5zM515.0 668.7h8.5v8.5h-8.5zM516.0 669.1h8.5v8.5h-8.5zM516.9 669.5h8.5v8.5h-8.5zM517.8 669.9h8.5v8.5h-8.5zM518.7 670.3h8.5v8.5h-8.5zM519.6 670.8h8.5v8.5h-8.5zM520.5 671.2h8.5v8.5h-8.5zM521.4 671.6h8.5v8.5h-8.5zM522.3 672.0h8.5v8.5h-8.5zM523.2 672.5h8.5v8.5h-8.5zM524.1 672.9h8.5v8.5h-8.5zM525.0 673.3h8.5v8.5h-8.5zM525.9 673.8h8.5v8.5h-8.5zM526.8 674.2h8.5v8.5h-8.5zM527.7 674.7h8.5v8.5h-8.5zM528.6 675.1h8.5v8.5h-8.5zM529.5 675.6h8.5v8.5h-8.5zM530.4 676.0h8.5v8.5h-8.5zM531.3 676.5h8.5v8.5h-8.5zM532.2 676.9h8.5v8.5h-8.5zM533.1 677.4h8.5v8.5h-8.5zM534.0 677.8h8.5v8.5h-8.5zM534.8 678.3h8.5v8.5h-8.5zM535.7 678.8h8.5v8.5h-8.5zM536.6 679.2h8.5v8.5h-8.5zM537.5 679.7h8.5v8.5h-8.5zM538.4 680.2h8.5v8.5h-8.5zM539.3 680.6h8.5v8.5h-8.5zM540.1 681.1h8.5v8.5h-8.5zM541.0 681.6h8.5v8.5h-8.5zM541.9 682.1h8.5v8.5h-8.5zM542.8 682.6h8.5v8.5h-8.5zM543.6 683.0h8.5v8.5h-8.5zM544.5 683.5h8.5v8.5h-8.5zM545.4 684.0h8.5v8.5h-8.5zM546.3 684.5h8.5v8.5h-8.5zM547.1 685.0h8.5v8.5h-8.5zM548.0 685.5h8.5v8.5h-8.5zM548.9 686.0h8.5v8.5h-8.5zM549.7 686.5h8.5v8.5h-8.5zM550.6 687.0h8.5v8.5h-8.5zM551.4 687.5h8.5v8.5h-8.5zM552.3 688.0h8.5v8.5h-8.5zM553.2 688.5h8.5v8.5h-8.5zM554.0 689.1h8.5v8.5h-8.5zM554.9 689.6h8.5v8.5h-8.5zM555.7 690.1h8.5v8.5h-8.5zM556.6 690.6h8.5v8.5h-8.5zM557.4 691.1h8.5v8.5h-8.5zM558.3 691.7h8.5v8.5h-8.5zM559.1 692.2h8.5v8.5h-8.5zM560.0 692.7h8.5v8.5h-8.5zM560.8 693.3h8.5v8.5h-8.5zM561.7 693.8h8.5v8.5h-8.5zM562.5 694.3h8.5v8.5h-8.5zM563.3 694.9h8.5v8.5h-8.5zM564.2 695.4h8.5v8.5h-8.5zM565.0 696.0h8.5v8.5h-8.5zM565.9 696.5h8.5v8.5h-8.5zM566.7 697.1h8.5v8.5h-8.5zM567.5 697.6h8.5v8.5h-8.5zM568.4 698.2h8.5v8.5h-8.5zM569.2 698.7h8.5v8.5h-8.5zM570.0 699.3h8.5v8.5h-8.5zM570.8 699.9h8.5v8.5h-8.5zM571.7 700.4h8.5v8.5h-8.5zM572.5 701.0h8.5v8.5h-8.5zM573.3 701.6h8.5v8.5h-8.5zM574.1 702.2h8.5v8.5h-8.5zM574.9 702.7h8.5v8.5h-8.5zM575.8 703.3h8.5v8.5h-8.5zM576.6 703.9h8.5v8.5h-8.5zM577.4 704.5h8.5v8.5h-8.5zM578.2 705.1h8.5v8.5h-8.5zM579.0 705.7h8.5v8.5h-8.5zM579.8 706.2h8.5v8.5h-8.5zM580.6 706.8h8.5v8.5h-8.5zM581.4 707.4h8.5v8.5h-8.5zM582.2 708.0h8.5v8.5h-8.5zM583.0 708.6h8.5v8.5h-8.5zM583.8 709.2h8.5v8.5h-8.5zM584.6 709.8h8.5v8.5h-8.5zM585.4 710.5h8.5v8.5h-8.5zM586.2 711.1h8.5v8.5h-8.5zM587.0 711.7h8.5v8.5h-8.5zM587.8 712.3h8.5v8.5h-8.5zM588.5 712.9h8.5v8.5h-8.5zM589.3 713.5h8.5v8.5h-8.5zM590.1 714.2h8.5v8.5h-8.5zM590.9 714.8h8.5v8.5h-8.5zM591.7 715.4h8.5v8.5h-8.5zM592.4 716.1h8.5v8.5h-8.5zM593.2 716.7h8.5v8.5h-8.5zM594.0 717.3h8.5v8.5h-8.5zM594.8 718.0h8.5v8.5h-8.5zM595.5 718.6h8.5v8.5h-8.5zM596.3 719.3h8.5v8.5h-8.5zM597.0 719.9h8.5v8.5h-8.5zM597.8 720.5h8.5v8.5h-8.5zM598.6 721.2h8.5v8.5h-8.5zM599.3 721.9h8.5v8.5h-8.5zM600.1 722.5h8.5v8.5h-8.5zM600.8 723.2h8.5v8.5h-8.5zM601.6 723.8h8.5v8.5h-8.5zM602.3 724.5h8.5v8.5h-8.5zM603.1 725.2h8.5v8.5h-8.5zM603.8 725.8h8.5v8.5h-8.5zM604.6 726.5h8.5v8.5h-8.5zM605.3 727.2h8.5v8.5h-8.5zM606.0 727.9h8.5v8.5h-8.5zM606.8 728.5h8.5v8.5h-8.5zM607.5 729.2h8.5v8.5h-8.5zM608.2 729.9h8.5v8.5h-8.5zM608.9 730.6h8.5v8.5h-8.5zM609.7 731.3h8.5v8.5h-8.5zM610.4 732.0h8.5v8.5h-8.5zM611.1 732.7h8.5v8.5h-8.5zM611.8 733.4h8.5v8.5h-8.5zM612.5 734.1h8.5v8.5h-8.5zM613.3 734.8h8.5v8.5h-8.5zM614.0 735.5h8.5v8.5h-8.5zM614.7 736.2h8.5v8.5h-8.5zM615.4 736.9h8.5v8.5h-8.5zM616.1 737.6h8.5v8.5h-8.5zM616.8 738.3h8.5v8.5h-8.5zM617.5 739.0h8.5v8.5h-8.5zM618.2 739.7h8.5v8.5h-8.5zM618.9 740.5h8.5v8.5h-8.5zM619.6 741.2h8.5v8.5h-8.5zM620.3 741.9h8.5v8.5h-8.5zM620.9 742.6h8.5v8.5h-8.5zM621.6 743.4h8.5v8.5h-8.5zM622.3 744.1h8.5v8.5h-8.5zM623.0 744.8h8.5v8.5h-8.5zM623.7 745.6h8.5v8.5h-8.5zM624.3 746.3h8.5v8.5h-8.5zM625.0 747.1h8.5v8.5h-8.5zM625.7 747.8h8.5v8.5h-8.5zM626.3 748.5h8.5v8.5h-8.5zM627.0 749.3h8.5v8.5h-8.5zM627.7 750.0h8.5v8.5h-8.5zM628.3 750.8h8.5v8.5h-8.5zM629.0 751.6h8.5v8.5h-8.5zM629.6 752.3h8.5v8.5h-8.5zM630.3 753.1h8.5v8.5h-8.5zM630.9 753.8h8.5v8.5h-8.5zM631.6 754.6h8.5v8.5h-8.5zM632.2 755.4h8.5v8.5h-8.5zM632.8 756.1h8.5v8.5h-8.5zM633.5 756.9h8.5v8.5h-8.5zM634.1 757.7h8.5v8.5h-8.5zM634.7 758.5h8.5v8.5h-8.5zM635.4 759.2h8.5v8.5h-8.5zM636.0 760.0h8.5v8.5h-8.5zM636.6 760.8h8.5v8.5h-8.5zM637.2 761.6h8.5v8.5h-8.5zM637.9 762.4h8.5v8.5h-8.5zM638.5 763.2h8.5v8.5h-8.5zM639.1 764.0h8.5v8.5h-8.5zM639.7 764.7h8.5v8.5h-8.5zM640.3 765.5h8.5v8.5h-8.5zM640.9 766.3h8.5v8.5h-8.5zM641.5 767.1h8.5v8.5h-8.5zM642.1 767.9h8.5v8.5h-8.5zM642.7 768.7h8.5v8.5h-8.5zM643.3 769.5h8.5v8.5h-8.5zM643.9 770.4h8.5v8.5h-8.5zM644.5 771.2h8.5v8.5h-8.5zM645.0 772.0h8.5v8.5h-8.5zM645.6 772.8h8.5v8.5h-8.5zM646.2 773.6h8.5v8.5h-8.5zM646.8 774.4h8.5v8.5h-8.5zM647.4 775.2h8.5v8.5h-8.5zM647.9 776.1h8.5v8.5h-8.5zM648.5 776.9h8.5v8.5h-8.5zM649.1 777.7h8.5v8.5h-8.5zM649.6 778.5h8.5v8.5h-8.5zM650.2 779.4h8.5v8.5h-8.5zM650.7 780.2h8.5v8.5h-8.5zM651.3 781.0h8.5v8.5h-8.5zM651.8 781.9h8.5v8.5h-8.5zM652.4 782.7h8.5v8.5h-8.5zM652.9 783.6h8.5v8.5h-8.5zM653.5 784.4h8.5v8.5h-8.5zM654.0 785.2h8.5v8.5h-8.5zM654.5 786.1h8.5v8.5h-8.5zM655.1 786.9h8.5v8.5h-8.5zM655.6 787.8h8.5v8.5h-8.5zM656.1 788.6h8.5v8.5h-8.5zM656.6 789.5h8.5v8.5h-8.5zM657.2 790.3h8.5v8.5h-8.5zM657.7 791.2h8.5v8.5h-8.5zM658.2 792.1h8.5v8.5h-8.5zM658.7 792.9h8.5v8.5h-8.5zM659.2 793.8h8.5v8.5h-8.5zM659.7 794.6h8.5v8.5h-8.5zM660.2 795.5h8.5v8.5h-8.5zM660.7 796.4h8.5v8.5h-8.5zM661.2 797.2h8.5v8.5h-8.5zM661.7 798.1h8.5v8.5h-8.5zM662.2 799.0h8.5v8.5h-8.5zM662.7 799.9h8.5v8.5h-8.5zM663.2 800.7h8.5v8.5h-8.5zM663.6 801.6h8.5v8.5h-8.5zM664.1 802.5h8.5v8.5h-8.5zM664.6 803.4h8.5v8.5h-8.5zM665.1 804.3h8.5v8.5h-8.5zM665.5 805.1h8.5v8.5h-8.5zM666.0 806.0h8.5v8.5h-8.5zM666.4 806.9h8.5v8.5h-8.5zM666.9 807.8h8.5v8.5h-8.5zM667.4 808.7h8.5v8.5h-8.5zM667.8 809.6h8.5v8.5h-8.5zM668.3 810.5h8.5v8.5h-8.5zM668.7 811.4h8.5v8.5h-8.5zM669.1 812.3h8.5v8.5h-8.5zM669.6 813.2h8.5v8.5h-8.5zM670.0 814.1h8.5v8.5h-8.5zM670.5 815.0h8.5v8.5h-8.5zM670.9 815.9h8.5v8.5h-8.5zM671.3 816.8h8.5v8.5h-8.5zM671.7 817.7h8.5v8.5h-8.5zM672.1 818.6h8.5v8.5h-8.5zM672.6 819.5h8.5v8.5h-8.5zM673.0 820.4h8.5v8.5h-8.5zM673.4 821.3h8.5v8.5h-8.5zM673.8 822.2h8.5v8.5h-8.5zM674.2 823.2h8.5v8.5h-8.5zM674.6 824.1h8.5v8.5h-8.5zM675.0 825.0h8.5v8.5h-8.5zM675.4 825.9h8.5v8.5h-8.5zM675.8 826.8h8.5v8.5h-8.5zM676.2 827.7h8.5v8.5h-8.5zM676.5 828.7h8.5v8.5h-8.5zM676.9 829.6h8.5v8.5h-8.5zM677.3 830.5h8.5v8.5h-8.5zM677.7 831.4h8.5v8.5h-8.5zM678.1 832.4h8.5v8.5h-8.5zM678.4 833.3h8.5v8.5h-8.5zM678.8 834.2h8.5v8.5h-8.5zM679.1 835.2h8.5v8.5h-8.5zM679.5 836.1h8.5v8.5h-8.5zM679.9 837.0h8.5v8.5h-8.5zM680.2 838.0h8.5v8.5h-8.5zM680.6 838.9h8.5v8.5h-8.5zM680.9 839.9h8.5v8.5h-8.5zM681.2 840.8h8.5v8.5h-8.5zM681.6 841.7h8.5v8.5h-8.5zM681.9 842.7h8.5v8.5h-8.5zM682.2 843.6h8.5v8.5h-8.5zM682.6 844.6h8.5v8.5h-8.5zM682.9 845.5h8.5v8.5h-8.5zM683.2 846.5h8.5v8.5h-8.5z"/>
<path fill="#f00" d="M394.4 543.6h8.5v8.5h-8.5zM394.4 544.6h8.5v8.5h-8.5zM394.4 545.6h8.5v8.5h-8.5zM394.4 546.6h8.5v8.5h-8.5zM394.4 547.6h8.5v8.5h-8.5zM394.4 548.6h8.5v8.5h-8.5zM394.4 549.6h8.5v8.5h-8.5zM394.4 550.6h8.5v8.5h-8.5zM394.4 551.6h8.5v8.5h-8.5zM394.4 552.6h8.5v8.5h-8.5zM394.4 553.6h8.5v8.5h-8.5zM394.4 554.6h8.5v8.5h-8.5zM394.4 555.6h8.5v8.5h-8.5zM394.4 556.6h8.5v8.5h-8.5zM394.4 557.6h8.5v8.5h-8.5zM394.4 558.6h8.5v8.5h-8.5zM394.4 559.6h8.5v8.5h-8.5zM394.4 560.6h8.5v8.5h-8.5zM394.4 561.6h8.5v8.5h-8.5zM394.4 562.6h8.5v8.5h-8.5zM394.4 563.6h8.5v8.5h-8.5zM394.4 564.6h8.5v8.5h-8.5zM394.5 565.6h8.5v8.5h-8.5zM394.6 566.6h8.5v8.5h-8.5zM394.8 567.6h8.5v8.5h-8.5zM395.1 568.5h8.5v8.5h-8.5zM395.4 569.5h8.5v8.5h-8.5zM395.7 570.4h8.5v8.5h-8.5zM396.1 571.3h8.5v8.5h-8.5zM396.6 572.2h8.5v8.5h-8.5zM397.1 573.1h8.5v8.5h-8.5zM397.7 573.9h8.5v8.5h-8.5zM398.4 574.6h8.5v8.5h-8.5zM399.1 575.3h8.5v8.5h-8.5zM399.9 576.0h8.5v8.5h-8.5zM400.7 576.6h8.5v8.5h-8.5zM401.5 577.1h8.5v8.5h-8.5zM402.4 577.6h8.5v8.5h-8.5zM403.3 578.0h8.5v8.5h-8.5zM404.2 578.4h8.5v8.5h-8.5zM405.1 578.7h8.5v8.5h-8.5zM406.1 579.0h8.5v8.5h-8.5zM407.1 579.3h8.5v8.5h-8.5zM408.1 579.5h8.5v8.5h-8.5zM409.0 579.6h8.5v8.5h-8.5zM410.0 579.8h8.5v8.5h-8.5zM411.0 579.7h8.5v8.5h-8.5zM412.0 579.7h8.5v8.5h-8.5zM413.0 579.8h8.5v8.5h-8.5zM414.0 579.8h8.5v8.5h-8.5zM415.0 579.8h8.5v8.5h-8.5zM416.0 579.8h8.5v8.5h-8.5zM417.0 579.8h8.5v8.5h-8.5zM418.0 579.8h8.5v8.5h-8.5zM419.0 579.8h8.5v8.5h-8.5zM420.0 579.8h8.5v8.5h-8.5zM421.0 579.9h8.5v8.5h-8.5zM422.0 579.9h8.5v8.5h-8.5zM423.0 579.9h8.5v8.5h-8.5zM424.0 579.9h8.5v8.5h-8.5zM425.0 580.0h8.5v8.5h-8.5zM426.0 580.0h8.5v8.5h-8.5zM427.0 580.0h8.5v8.5h-8.5zM428.0 580.1h8.5v8.5h-8.5zM429.0 580.1h8.5v8.5h-8.5zM430.0 580.2h8.5v8.5h-8.5zM431.0 580.2h8.5v8.5h-8.5zM432.0 580.3h8.5v8.5h-8.5zM433.0 580.3h8.5v8.5h-8.5zM434.0 580.4h8.5v8.5h-8.5zM435.0 580.4h8.5v8.5h-8.5zM436.0 580.5h8.5v8.5h-8.5zM437.0 580.5h8.5v8.5h-8.5zM438.0 580.6h8.5v8.5h-8.5zM439.0 580.7h8.5v8.5h-8.5zM440.0 580.7h8.5v8.5h-8.5zM441.0 580.8h8.5v8.5h-8.5zM442.0 580.9h8.5v8.5h-8.5zM443.0 581.0h8.5v8.5h-8.5zM444.0 581.0h8.5v8.5h-8.5zM445.0 581.1h8.5v8.5h-8.5zM446.0 581.2h8.5v8.5h-8.5zM447.0 581.3h8.5v8.5h-8.5zM448.0 581.4h8.5v8.5h-8.5zM449.0 581.4h8.5v8.5h-8.5zM450.0 581.5h8.5v8.5h-8.5zM451.0 581.6h8.5v8.5h-8.5zM452.0 581.7h8.5v8.5h-8.5zM453.0 581.8h8.5v8.5h-8.5zM454.0 581.9h8.5v8.5h-8.5zM454.9 582.0h8.5v8.5h-8.5zM455.9 582.1h8.5v8.5h-8.5zM456.9 582.2h8.5v8.5h-8.5zM457.9 582.3h8.5v8.5h-8.5zM458.9 582.5h8.5v8.5h-8.5zM459.9 582.6h8.5v8.5h-8.5zM460.9 582.7h8.5v8.5h-8.5zM461.9 582.8h8.5v8.5h-8.5zM462.9 582.9h8.5v8.5h-8.5zM463.9 583.0h8.5v8.5h-8.5zM464.9 583.2h8.5v8.5h-8.5zM465.9 583.3h8.5v8.5h-8.5zM466.9 583.4h8.5v8.5h-8.5zM467.9 583.6h8.5v8.5h-8.5zM468.8 583.7h8.5v8.5h-8.5zM469.8 583.8h8.5v8.5h-8.5zM470.8 584.0h8.5v8.5h-8.5zM471.8 584.1h8.5v8.5h-8.5zM472.8 584.2h8.5v8.5h-8.5zM473.8 584.4h8.5v8.5h-8.5zM474.8 584.5h8.5v8.5h-8.5zM475.8 584.7h8.5v8.5h-8.5zM476.8 584.8h8.5v8.5h-8.5zM477.8 585.0h8.5v8.5h-8.5zM478.7 585.2h8.5v8.5h-8.5zM479.7 585.3h8.5v8.5h-8.5zM480.7 585.5h8.5v8.5h-8.5zM481.7 585.6h8.5v8.5h-8.5zM482.7 585.8h8.5v8.5h-8.5zM483.7 586.0h8.5v8.5h-8.5zM484.7 586.1h8.5v8.5h-8.5zM485.6 586.3h8.5v8.5h-8.5zM486.6 586.5h8.5v8.5h-8.5zM487.6 586.7h8.5v8.5h-8.5zM488.6 586.8h8.5v8.5h-8.5zM489.6 587.0h8.5v8.5h-8.5zM490.6 587.2h8.5v8.5h-8.5zM491.5 587.4h8.5v8.5h-8.5zM492.5 587.6h8.5v8.5h-8.5zM493.5 587.8h8.5v8.5h-8.5zM494.5 588.0h8.5v8.5h-8.5zM495.5 588.2h8.5v8.5h-8.5zM496.5 588.4h8.5v8.5h-8.5zM497.4 588.6h8.5v8.5h-8.5zM498.4 588.8h8.5v8.5h-8.5zM499.4 589.0h8.5v8.5h-8.5zM500.4 589.2h8.5v8.5h-8.5zM501.3 589.4h8.5v8.5h-8.5zM502.3 589.6h8.5v8.5h-8.5zM503.3 589.8h8.5v8.5h-8.5zM504.3 590.0h8.5v8.5h-8.5zM505.3 590.2h8.5v8.5h-8.5zM506.2 590.5h8.5v8.5h-8.5zM507.2 590.7h8.5v8.5h-8.5zM508.2 590.9h8.5v8.5h-8.5zM509.2 591.1h8.5v8.5h-8.5zM510.1 591.4h8.5v8.5h-8.5zM511.1 591.6h8.5v8.5h-8.5zM512.1 591.8h8.5v8.5h-8.5zM513.0 592.1h8.5v8.5h-8.5zM514.0 592.3h8.5v8.5h-8.5zM515.0 592.5h8.5v8.5h-8.5zM516.0 592.8h8.5v8.5h-8.5zM516.9 593.0h8.5v8.5h-8.5zM517.9 593.3h8.5v8.5h-8.5zM518.9 593.5h8.5v8.5h-8.5zM519.8 593.8h8.5v8.5h-8.5zM520.8 594.0h8.5v8.5h-8.5zM521.8 594.3h8.5v8.5h-8.5zM522.7 594.6h8.5v8.5h-8.5zM523.7 594.8h8.5v8.5h-8.5zM524.7 595.1h8.5v8.5h-8.5zM525.6 595.3h8.5v8.5h-8.5zM526.6 595.6h8.5v8.5h-8.5zM527.6 595.9h8.5v8.5h-8.5zM528.5 596.1h8.5v8.5h-8.5zM529.5 596.4h8.5v8.5h-8.5zM530.4 596.7h8.5v8.5h-8.5zM531.4 597.0h8.5v8.5h-8.5zM532.4 597.3h8.5v8.5h-8.5zM533.3 597.5h8.5v8.5h-8.5zM534.3 597.8h8.5v8.5h-8.5zM535.2 598.1h8.5v8.5h-8.5zM536.2 598.4h8.5v8.5h-8.5zM537.1 598.7h8.5v8.5h-8.5zM538.1 599.0h8.5v8.5h-8.5zM539.1 599.3h8.5v8.5h-8.5zM540.0 599.6h8.5v8.5h-8.5zM541.0 599.9h8.5v8.5h-8.5zM541.9 600.2h8.5v8.5h-8.5zM542.9 600.5h8.5v8.5h-8.5zM543.8 600.8h8.5v8.5h-8.5zM544.8 601.1h8.5v8.5h-8.5zM545.7 601.4h8.5v8.5h-8.5zM546.7 601.7h8.5v8.5h-8.5zM547.6 602.0h8.5v8.5h-8.5zM548.6 602.4h8.5v8.5h-8.5zM549.5 602.7h8.5v8.5h-8.5zM550.5 603.0h8.5v8.5h-8.5zM551.4 603.3h8.5v8.5h-8.5zM552.4 603.7h8.5v8.5h-8.5zM553.3 604.0h8.5v8.5h-8.5zM554.2 604.3h8.5v8.5h-8.5zM555.2 604.7h8.5v8.5h-8.5zM556.1 605.0h8.5v8.5h-8.5zM557.1 605.3h8.5v8.5h-8.5zM558.0 605.7h8.5v8.5h-8.5zM558.9 606.0h8.5v8.5h-8.5zM559.9 606.4h8.5v8.5h-8.5zM560.8 606.7h8.5v8.5h-8.5zM561.8 607.1h8.5v8.5h-8.5zM562.7 607.4h8.5v8.5h-8.5zM563.6 607.8h8.5v8.5h-8.5zM564.6 608.1h8.5v8.5h-8.5zM565.5 608.5h8.5v8.5h-8.5zM566.4 608.8h8.5v8.5h-8.5zM567.4 609.2h8.5v8.5h-8.5zM568.3 609.6h8.5v8.5h-8.5zM569.2 609.9h8.5v8.5h-8.5zM570.1 610.3h8.5v8.5h-8.5zM571.1 610.7h8.5v8.5h-8.5zM572.0 611.1h8.5v8.5h-8.5zM572.9 611.4h8.5v8.5h-8.5zM573.9 611.8h8.5v8.5h-8.5zM574.8 612.2h8.5v8.5h-8.5zM575.7 612.6h8.5v8.5h-8.5zM576.6 613.0h8.5v8.5h-8.5zM577.5 613.4h8.5v8.5h-8.5zM578.5 613.7h8.5v8.5h-8.5zM579.4 614.1h8.5v8.5h-8.5zM580.3 614.5h8.5v8.5h-8.5zM581.2 614.9h8.5v8.5h-8.5zM582.1 615.3h8.5v8.5h-8.5zM583.1 615.7h8.5v8.5h-8.5zM584.0 616.1h8.5v8.5h-8.5zM584.9 616.5h8.5v8.5h-8.5zM585.8 616.9h8.5v8.5h-8.5zM586.7 617.4h8.5v8.5h-8.5zM587.6 617.8h8.5v8.5h-8.5zM588.5 618.2h8.5v8.5h-8.5zM589.4 618.6h8.5v8.5h-8.5zM590.3 619.0h8.5v8.5h-8.5zM591.3 619.4h8.5v8.5h-8.5zM592.2 619.9h8.5v8.5h-8.5zM593.1 620.3h8.5v8.5h-8.5zM594.0 620.7h8.5v8.5h-8.5zM594.9 621.2h8.5v8.5h-8.5zM595.8 621.6h8.5v8.5h-8.5zM596.7 622.0h8.5v8.5h-8.5zM597.6 622.5h8.5v8.5h-8.5zM598.5 622.9h8.5v8.5h-8.5zM599.4 623.3h8.5v8.5h-8.5zM600.3 623.8h8.5v8.5h-8.5zM601.2 624.2h8.5v8.5h-8.5zM602.1 624.7h8.5v8.5h-8.5zM602.9 625.1h8.5v8.5h-8.5zM603.8 625.6h8.5v8.5h-8.5zM604.7 626.0h8.5v8.5h-8.5zM605.6 626.5h8.5v8.5h-8.5zM606.5 627.0h8.5v8.5h-8.5zM607.4 627.4h8.5v8.5h-8.5zM608.3 627.9h8.5v8.5h-8.5zM609.2 628.3h8.5v8.5h-8.5zM610.0 628.8h8.5v8.5h-8.5zM610.9 629.3h8.5v8.5h-8.5zM611.8 629.8h8.5v8.5h-8.5zM612.7 630.2h8.5v8.5h-8.5zM613.6 630.7h8.5v8.5h-8.5zM614.4 631.2h8.5v8.5h-8.5zM615.3 631.7h8.5v8.5h-8.5zM616.2 632.2h8.5v8.5h-8.5zM617.1 632.6h8.5v8.5h-8.5zM617.9 633.1h8.5v8.5h-8.5zM618.8 633.6h8.5v8.5h-8.5zM619.7 634.1h8.5v8.5h-8.5zM620.5 634.6h8.5v8.5h-8.5zM621.4 635.1h8.5v8.5h-8.5zM622.3 635.6h8.5v8.5h-8.5zM623.1 636.1h8.5v8.5h-8.5zM624.0 636.6h8.5v8.5h-8.5zM624.9 637.1h8.5v8.5h-8.5zM625.7 637.6h8.5v8.5h-8.5zM626.6 638.2h8.5v8.5h-8.5zM627.4 638.7h8.5v8.5h-8.5zM628.3 639.2h8.5v8.5h-8.5zM629.2 639.7h8.5v8.5h-8.5zM630.0 640.2h8.5v8.5h-8.5zM630.9 640.7h8.5v8.5h-8.5zM631.7 641.3h8.5v8.5h-8.5zM632.6 641.8h8.5v8.5h-8.5zM633.4 642.3h8.5v8.5h-8.5zM634.3 642.9h8.5v8.5h-8.5zM635.1 643.4h8.5v8.5h-8.5zM636.0 643.9h8.5v8.5h-8.5zM636.8 644.5h8.5v8.5h-8.5zM637.6 645.0h8.5v8.5h-8.5zM638.5 645.5h8.5v8.5h-8.5zM639.3 646.1h8.5v8.5h-8.5zM640.2 646.6h8.5v8.5h-8.5zM641.0 647.2h8.5v8.5h-8.5zM641.8 647.7h8.5v8.5h-8.5zM642.7 648.3h8.5v8.5h-8.5zM643.5 648.9h8.5v8.5h-8.5zM644.3 649.4h8.5v8.5h-8.5zM645.1 650.0h8.5v8.5h-8.5zM646.0 650.5h8.5v8.5h-8.5zM646.8 651.1h8.5v8.5h-8.5zM647.6 651.7h8.5v8.5h-8.5zM648.4 652.2h8.5v8.5h-8.5zM649.3 652.8h8.5v8.5h-8.5zM650.1 653.4h8.5v8.5h-8.5zM650.9 654.0h8.5v8.5h-8.5zM651.7 654.5h8.5v8.5h-8.5zM652.5 655.1h8.5v8.5h-8.5zM653.3 655.7h8.5v8.5h-8.5zM654.1 656.3h8.5v8.5h-8.5zM655.0 656.9h8.5v8.5h-8.5zM655.8 657.5h8.5v8.5h-8.5zM656.6 658.1h8.5v8.5h-8.5zM657.4 658.7h8.5v8.5h-8.5zM658.2 659.3h8.5v8.5h-8.5zM659.0 659.9h8.5v8.5h-8.5zM659.8 660.5h8.5v8.5h-8.5zM660.6 661.1h8.5v8.5h-8.5zM661.4 661.7h8.5v8.5h-8.5zM662.2 662.3h8.5v8.5h-8.5zM663.0 662.9h8.5v8.5h-8.5zM663.7 663.5h8.5v8.5h-8.5zM664.5 664.1h8.5v8.5h-8.5zM665.3 664.7h8.5v8.5h-8.5zM666.1 665.3h8.5v8.5h-8.5zM666.9 666.0h8.5v8.5h-8.5zM667.7 666.6h8.5v8.5h-8.5zM668.4 667.2h8.5v8.5h-8.5zM669.2 667.8h8.5v8.5h-8.5zM670.0 668.5h8.5v8.5h-8.5zM670.8 669.1h8.5v8.5h-8.5zM671.5 669.7h8.5v8.5h-8.5zM672.3 670.4h8.5v8.5h-8.5zM673.1 671.0h8.5v8.5h-8.5zM673.9 671.7h8.5v8.5h-8.5zM674.6 672.3h8.5v8.5h-8.5zM675.4 673.0h8.5v8.5h-8.5zM676.1 673.6h8.5v8.5h-8.5zM676.9 674.3h8.5v8.5h-8.5zM677.7 674.9h8.5v8.5h-8.5zM678.4 675.6h8.5v8.5h-8.5zM679.2 676.2h8.5v8.5h-8.5zM679.9 676.9h8.5v8.5h-8.5zM680.7 677.5h8.5v8.5h-8.5zM681.4 678.2h8.5v8.5h-8.5zM682.2 678.9h8.5v8.5h-8.5zM682.9 679.5h8.5v8.5h-8.5zM683.7 680.2h8.5v8.5h-8.5zM684.4 680.9h8.5v8.5h-8.5zM685.1 681.5h8.5v8.5h-8.5zM685.9 682.2h8.5v8.5h-8.5zM686.6 682.9h8.5v8.5h-8.5zM687.3 683.6h8.5v8.5h-8.5zM688.1 684.3h8.5v8.5h-8.5zM688.8 685.0h8.5v8.5h-8.5zM689.5 685.6h8.5v8.5h-8.5zM690.2 686.3h8.5v8.5h-8.5zM691.0 687.0h8.5v8.5h-8.5zM691.7 687.7h8.5v8.5h-8.5zM692.4 688.4h8.5v8.5h-8.5zM693.1 689.1h8.5v8.5h-8.5zM693.8 689.8h8.5v8.5h-8.5zM694.5 690.5h8.5v8.5h-8.5zM695.3 691.2h8.5v8.5h-8.5zM696.0 691.9h8.5v8.5h-8.5zM696.7 692.6h8.5v8.5h-8.5zM697.4 693.3h8.5v8.5h-8.5zM698.1 694.1h8.5v8.5h-8.5zM698.8 694.8h8.5v8.5h-8.5zM699.5 695.5h8.5v8.5h-8.5zM700.2 696.2h8.5v8.5h-8.5zM700.9 696.9h8.5v8.5h-8.5zM701.6 697.7h8.5v8.5h-8.5zM702.2 698.4h8.5v8.5h-8.5zM702.9 699.1h8.5v8.5h-8.5zM703.6 699.8h8.5v8.5h-8.5zM704.3 700.6h8.5v8.5h-8.5zM705.0 701.3h8.5v8.5h-8.5zM705.6 702.0h8.5v8.5h-8.5zM706.3 702.8h8.5v8.5h-8.5zM707.0 703.5h8.5v8.5h-8.5zM707.7 704.3h8.5v8.5h-8.5zM708.3 705.0h8.5v8.5h-8.5zM709.0 705.7h8.5v8.5h-8.5zM709.7 706.5h8.5v8.5h-8.5zM710.3 707.2h8.5v8.5h-8.5zM711.0 708.0h8.5v8.5h-8.5zM711.6 708.7h8.5v8.5h-8.5zM712.3 709.5h8.5v8.5h-8.5zM713.0 710.3h8.5v8.5h-8.5zM713.6 711.0h8.5v8.5h-8.5zM714.3 711.8h8.5v8.5h-8.5zM714.9 712.5h8.5v8.5h-8.5zM715.5 713.3h8.5v8.5h-8.5zM716.2 714.1h8.5v8.5h-8.5zM716.8 714.8h8.5v8.5h-8.5zM717.5 715.6h8.5v8.5h-8.5zM718.1 716.4h8.5v8.5h-8.5zM718.7 717.2h8.5v8.5h-8.5zM719.4 717.9h8.5v8.5h-8.5zM720.0 718.7h8.5v8.5h-8.5zM720.6 719.5h8.5v8.5h-8.5zM721.2 720.3h8.5v8.5h-8.5zM721.9 721.1h8.5v8.5h-8.5zM722.5 721.8h8.5v8.5h-8.5zM723.1 722.6h8.5v8.5h-8.5zM723.7 723.4h8.5v8.5h-8.5zM724.3 724.2h8.5v8.5h-8.5zM724.9 725.0h8.5v8.5h-8.5zM725.5 725.8h8.5v8.5h-8.5zM726.1 726.6h8.5v8.5h-8.5zM726.7 727.4h8.5v8.5h-8.5zM727.3 728.2h8.5v8.5h-8.5zM727.9 729.0h8.5v8.5h-8.5zM728.5 729.8h8.5v8.5h-8.5zM729.1 730.6h8.5v8.5h-8.5zM729.7 731.4h8.5v8.5h-8.5zM730.3 732.2h8.5v8.5h-8.5zM730.9 733.0h8.5v8.5h-8.5zM731.5 733.8h8.5v8.5h-8.5zM732.1 734.7h8.5v8.5h-8.5zM732.6 735.5h8.5v8.5h-8.5zM733.2 736.3h8.5v8.5h-8.5zM733.8 737.1h8.5v8.5h-8.5zM734.4 737.9h8.5v8.5h-8.5zM734.9 738.8h8.5v8.5h-8.5zM735.5 739.6h8.5v8.5h-8.5zM736.1 740.4h8.5v8.5h-8.5zM736.6 741.2h8.5v8.5h-8.5zM737.2 742.1h8.5v8.5h-8.5zM737.7 742.9h8.5v8.5h-8.5zM738.3 743.7h8.5v8.5h-8.5zM738.8 744.6h8.5v8.5h-8.5zM739.4 745.4h8.5v8.5h-8.5zM739.9 746.2h8.5v8.5h-8.5zM740.5 747.1h8.5v8.5h-8.5zM741.0 747.9h8.5v8.5h-8.5zM741.6 748.7h8.5v8.5h-8.5zM742.1 749.6h8.5v8.5h-8.5zM742.6 750.4h8.5v8.5h-8.5zM743.2 751.3h8.5v8.5h-8.5zM743.7 752.1h8.5v8.5h-8.5zM744.2 753.0h8.5v8.5h-8.5zM744.8 753.8h8.5v8.5h-8.5zM745.3 754.7h8.5v8.5h-8.5zM745.8 755.5h8.5v8.5h-8.5zM746.3 756.4h8.5v8.5h-8.5zM746.8 757.2h8.5v8.5h-8.5zM747.3 758.1h8.5v8.5h-8.5zM747.9 759.0h8.5v8.5h-8.5zM748.4 759.8h8.5v8.5h-8.5zM748.9 760.7h8.5v8.5h-8.5zM749.4 761.6h8.5v8.5h-8.5zM749.9 762.4h8.5v8.5h-8.5zM750.4 763.3h8.5v8.5h-8.5zM750.9 764.2h8.5v8.5h-8.5zM751.4 765.0h8.5v8.5h-8.5zM751.8 765.9h8.5v8.5h-8.5zM752.3 766.8h8.5v8.5h-8.5zM752.8 767.6h8.5v8.5h-8.5zM753.3 768.5h8.5v8.5h-8.5zM753.8 769.4h8.5v8.5h-8.5zM754.3 770.3h8.5v8.5h-8.5zM754.7 771.2h8.5v8.5h-8.5zM755.2 772.0h8.5v8.5h-8.5zM755.7 772.9h8.5v8.5h-8.5zM756.1 773.8h8.5v8.5h-8.5zM756.6 774.7h8.5v8.5h-8.5zM757.1 775.6h8.5v8.5h-8.5zM757.5 776.5h8.5v8.5h-8.5zM758.0 777.4h8.5v8.5h-8.5zM758.4 778.3h8.5v8.5h-8.5zM758.9 779.1h8.5v8.5h-8.5zM759.3 780.0h8.5v8.5h-8.5zM759.8 780.9h8.5v8.5h-8.5zM760.2 781.8h8.5v8.5h-8.5zM760.7 782.7h8.5v8.5h-8.5zM761.1 783.6h8.5v8.5h-8.5zM761.5 784.5h8.5v8.5h-8.5zM762.0 785.4h8.5v8.5h-8.5zM762.4 786.3h8.5v8.5h-8.5zM762.8 787.2h8.5v8.5h-8.5zM763.3 788.1h8.5v8.5h-8.5zM763.7 789.0h8.5v8.5h-8.5zM764.1 790.0h8.5v8.5h-8.5zM764.5 790.9h8.5v8.5h-8.5zM764.9 791.8h8.5v8.5h-8.5zM765.3 792.7h8.5v8.5h-8.5zM765.7 793.6h8.5v8.5h-8.5zM766.1 794.5h8.5v8.5h-8.5zM766.6 795.4h8.5v8.5h-8.5zM767.0 796.3h8.5v8.5h-8.5zM767.4 797.3h8.5v8.5h-8.5zM767.7 798.2h8.5v8.5h-8.5zM768.1 799.1h8.5v8.5h-8.5zM768.5 800.0h8.5v8.5h-8.5zM768.9 800.9h8.5v8.5h-8.5zM769.3 801.9h8.5v8.5h-8.5zM769.7 802.8h8.5v8.5h-8.5zM770.1 803.7h8.5v8.5h-8.5zM770.4 804.6h8.5v8.5h-8.5zM770.8 805.6h8.5v8.5h-8.5zM771.2 806.5h8.5v8.5h-8.5zM771.6 807.4h8.5v8.5h-8.5zM771.9 808.4h8.5v8.5h-8.5zM772.3 809.3h8.5v8.5h-8.5zM772.6 810.2h8.5v8.5h-8.5zM773.0 811.2h8.5v8.5h-8.5zM773.3 812.1h8.5v8.5h-8.5zM773.7 813.0h8.5v8.5h-8.5zM774.0 814.0h8.5v8.5h-8.5zM774.4 814.9h8.5v8.5h-8.5zM774.7 815.8h8.5v8.5h-8.5zM775.1 816.8h8.5v8.5h-8.5zM775.4 817.7h8.5v8.5h-8.5zM775.8 818.7h8.5v8.5h-8.5zM776.1 819.6h8.5v8.5h-8.5zM776.4 820.6h8.5v8.5h-8.5zM776.7 821.5h8.5v8.5h-8.5zM777.1 822.4h8.5v8.5h-8.5zM777.4 823.4h8.5v8.5h-8.5zM777.7 824.3h8.5v8.5h-8.5zM778.0 825.3h8.5v8.5h-8.5zM778.3 826.2h8.5v8.5h-8.5zM778.6 827.2h8.5v8.5h-8.5zM778.9 828.1h8.5v8.5h-8.5zM779.2 829.1h8.5v8.5h-8.5zM779.6 830.0h8.5v8.5h-8.5zM779.8 831.0h8.5v8.5h-8.5zM780.1 832.0h8.5v8.5h-8.5zM780.4 832.9h8.5v8.5h-8.5zM780.7 833.9h8.5v8.5h-8.5zM781.0 834.8h8.5v8.5h-8.5zM781.3 835.8h8.5v8.5h-8.5zM781.6 836.7h8.5v8.5h-8.5zM781.9 837.7h8.5v8.5h-8.5zM782.1 838.7h8.5v8.5h-8.5zM782.4 839.6h8.5v8.5h-8.5zM782.7 840.6h8.5v8.5h-8.5zM782.9 841.6h8.5v8.5h-8.5zM783.2 842.5h8.5v8.5h-8.5zM783.5 843.5h8.5v8.5h-8.5zM783.7 844.5h8.5v8.5h-8.5zM784.0 845.4h8.5v8.5h-8.5zM784.2 846.4h8.5v8.5h-8.5z"/>
<path fill="#f00" d="M394.4 626.0h8.5v8.5h-8.5zM394.4 627.0h8.5v8.5h-8.5zM394.4 628.0h8.5v8.5h-8.5zM394.4 629.0h8.5v8.5h-8.5zM394.4 630.0h8.5v8.5h-8.5zM394.4 631.0h8.5v8.5h-8.5zM394.4 632.0h8.5v8.5h-8.5zM394.5 633.0h8.5v8.5h-8.5zM394.8 634.0h8.5v8.5h-8.5zM395.1 634.9h8.5v8.5h-8.5zM395.6 635.8h8.5v8.5h-8.5zM396.1 636.6h8.5v8.5h-8.5zM396.8 637.4h8.5v8.5h-8.5zM397.5 638.1h8.5v8.5h-8.5zM398.2 638.7h8.5v8.5h-8.5zM399.0 639.3h8.5v8.5h-8.5zM399.9 639.8h8.5v8.5h-8.5zM400.8 640.3h8.5v8.5h-8.5zM401.7 640.7h8.5v8.5h-8.5zM402.6 641.1h8.5v8.5h-8.5zM403.6 641.4h8.5v8.5h-8.5zM404.5 641.7h8.5v8.5h-8.5zM405.5 642.0h8.5v8.5h-8.5zM406.4 642.3h8.5v8.5h-8.5zM407.4 642.5h8.5v8.5h-8.5zM408.4 642.7h8.5v8.5h-8.5zM409.4 642.9h8.5v8.5h-8.5zM410.4 643.0h8.5v8.5h-8.5zM411.4 643.2h8.5v8.5h-8.5zM412.3 643.4h8.5v8.5h-8.5zM413.3 643.5h8.5v8.5h-8.5zM414.3 643.7h8.5v8.5h-8.5zM415.3 643.9h8.5v8.5h-8.5zM416.3 644.1h8.5v8.5h-8.5zM417.3 644.2h8.5v8.5h-8.5zM418.2 644.4h8.5v8.5h-8.5zM419.2 644.6h8.5v8.5h-8.5zM420.2 644.8h8.5v8.5h-8.5zM421.2 645.0h8.5v8.5h-8.5zM422.2 645.2h8.5v8.5h-8.5zM423.2 645.4h8.5v8.5h-8.5zM424.1 645.5h8.5v8.5h-8.5zM425.1 645.7h8.5v8.5h-8.5zM426.1 645.9h8.5v8.5h-8.5zM427.1 646.1h8.5v8.5h-8.5zM428.1 646.4h8.5v8.5h-8.5zM429.0 646.6h8.5v8.5h-8.5zM430.0 646.8h8.5v8.5h-8.5zM431.0 647.0h8.5v8.5h-8.5zM432.0 647.2h8.5v8.5h-8.5zM432.9 647.4h8.5v8.5h-8.5zM433.9 647.6h8.5v8.5h-8.5zM434.9 647.9h8.5v8.5h-8.5zM435.9 648.1h8.5v8.5h-8.5zM436.8 648.3h8.5v8.5h-8.5zM437.8 648.6h8.5v8.5h-8.5zM438.8 648.8h8.5v8.5h-8.5zM439.7 649.0h8.5v8.5h-8.5zM440.7 649.3h8.5v8.5h-8.5zM441.7 649.5h8.5v8.5h-8.5zM442.7 649.8h8.5v8.5h-8.5zM443.6 650.0h8.5v8.5h-8.5zM444.6 650.3h8.5v8.5h-8.5zM445.5 650.6h8.5v8.5h-8.5zM446.5 650.8h8.5v8.5h-8.5zM447.5 651.1h8.5v8.5h-8.5zM448.4 651.4h8.5v8.5h-8.5zM449.4 651.7h8.5v8.5h-8.5zM450.4 651.9h8.5v8.5h-8.5zM451.3 652.2h8.5v8.5h-8.5zM452.3 652.5h8.5v8.5h-8.5zM453.2 652.8h8.5v8.5h-8.5zM454.2 653.1h8.5v8.5h-8.5zM455.1 653.4h8.5v8.5h-8.5zM456.1 653.7h8.5v8.5h-8.5zM457.0 654.0h8.5v8.5h-8.5zM458.0 654.4h8.5v8.5h-8.5zM458.9 654.7h8.5v8.5h-8.5zM459.9 655.0h8.5v8.5h-8.5zM460.8 655.3h8.5v8.5h-8.5zM461.8 655.7h8.5v8.5h-8.5zM462.7 656.0h8.5v8.5h-8.5zM463.6 656.4h8.5v8.5h-8.5zM464.6 656.7h8.5v8.5h-8.5zM465.5 657.1h8.5v8.5h-8.5zM466.4 657.4h8.5v8.5h-8.5zM467.4 657.8h8.5v8.5h-8.5zM468.3 658.2h8.5v8.5h-8.5zM469.2 658.5h8.5v8.5h-8.5zM470.2 658.9h8.5v8.5h-8.5zM471.1 659.3h8.5v8.5h-8.5zM472.0 659.7h8.5v8.5h-8.5zM472.9 660.1h8.5v8.5h-8.5zM473.8 660.5h8.5v8.5h-8.5zM474.7 660.9h8.5v8.5h-8.5zM475.6 661.3h8.5v8.5h-8.5zM476.5 661.8h8.5v8.5h-8.5zM477.5 662.2h8.5v8.5h-8.5zM478.4 662.6h8.5v8.5h-8.5zM479.2 663.1h8.5v8.5h-8.5zM480.1 663.5h8.5v8.5h-8.5zM481.0 664.0h8.5v8.5h-8.5zM481.9 664.4h8.5v8.5h-8.5zM482.8 664.9h8.5v8.5h-8.5zM483.7 665.4h8.5v8.5h-8.5zM484.6 665.9h8.5v8.5h-8.5zM485.4 666.4h8.5v8.5h-8.5zM486.3 666.8h8.5v8.5h-8.5zM487.2 667.3h8.5v8.5h-8.5zM488.0 667.9h8.5v8.5h-8.5zM488.9 668.4h8.5v8.5h-8.5zM489.7 668.9h8.5v8.5h-8.5zM490.6 669.4h8.5v8.5h-8.5zM491.4 670.0h8.5v8.5h-8.5zM492.3 670.5h8.5v8.5h-8.5zM493.1 671.1h8.5v8.5h-8.5zM493.9 671.6h8.5v8.5h-8.5zM494.8 672.2h8.5v8.5h-8.5zM495.6 672.8h8.5v8.5h-8.5zM496.4 673.3h8.5v8.5h-8.5zM497.2 673.9h8.5v8.5h-8.5zM498.0 674.5h8.5v8.5h-8.5zM498.8 675.1h8.5v8.5h-8.5zM499.6 675.7h8.5v8.5h-8.5zM500.4 676.4h8.5v8.5h-8.5zM501.2 677.0h8.5v8.5h-8.5zM501.9 677.6h8.5v8.5h-8.5zM502.7 678.3h8.5v8.5h-8.5zM503.5 678.9h8.5v8.5h-8.5zM504.2 679.5h8.5v8.5h-8.5zM505.0 680.2h8.5v8.5h-8.5zM505.7 680.9h8.5v8.5h-8.5zM506.5 681.5h8.5v8.5h-8.5zM507.2 682.2h8.5v8.5h-8.5zM507.9 682.9h8.5v8.5h-8.5zM508.7 683.6h8.5v8.5h-8.5zM509.4 684.3h8.5v8.5h-8.5zM510.1 685.0h8.5v8.5h-8.5zM510.8 685.7h8.5v8.5h-8.5zM511.5 686.4h8.5v8.5h-8.5zM512.2 687.1h8.5v8.5h-8.5zM512.9 687.8h8.5v8.5h-8.5zM513.6 688.5h8.5v8.5h-8.5zM514.3 689.2h8.5v8.5h-8.5zM515.0 690.0h8.5v8.5h-8.5zM515.7 690.7h8.5v8.5h-8.5zM516.3 691.5h8.5v8.5h-8.5zM517.0 692.2h8.5v8.5h-8.5zM517.7 693.0h8.5v8.5h-8.5zM518.3 693.7h8.5v8.5h-8.5zM519.0 694.5h8.5v8.5h-8.5zM519.6 695.2h8.5v8.5h-8.5zM520.3 696.0h8.5v8.5h-8.5zM520.9 696.8h8.5v8.5h-8.5zM521.5 697.5h8.5v8.5h-8.5zM522.2 698.3h8.5v8.5h-8.5zM522.8 699.1h8.5v8.5h-8.5zM523.4 699.9h8.5v8.5h-8.5zM524.0 700.7h8.5v8.5h-8.5zM524.6 701.5h8.5v8.5h-8.5zM525.2 702.3h8.5v8.5h-8.5zM525.8 703.1h8.5v8.5h-8.5zM526.4 703.9h8.5v8.5h-8.5zM527.0 704.7h8.5v8.5h-8.5zM527.6 705.5h8.5v8.5h-8.5zM528.2 706.3h8.5v8.5h-8.5zM528.8 707.1h8.5v8.5h-8.5zM529.4 707.9h8.5v8.5h-8.5zM529.9 708.7h8.5v8.5h-8.5zM530.5 709.5h8.5v8.5h-8.5zM531.1 710.4h8.5v8.5h-8.5zM531.6 711.2h8.5v8.5h-8.5zM532.2 712.0h8.5v8.5h-8.5zM532.8 712.9h8.5v8.5h-8.5zM533.3 713.7h8.5v8.5h-8.5zM533.9 714.5h8.5v8.5h-8.5zM534.4 715.4h8.5v8.5h-8.5zM534.9 716.2h8.5v8.5h-8.5zM535.5 717.1h8.5v8.5h-8.5zM536.0 717.9h8.5v8.5h-8.5zM536.5 718.7h8.5v8.5h-8.5zM537.1 719.6h8.5v8.5h-8.5zM537.6 720.4h8.5v8.5h-8.5zM538.1 721.3h8.5v8.5h-8.5zM538.6 722.2h8.5v8.5h-8.5zM539.2 723.0h8.5v8.5h-8.5zM539.7 723.9h8.5v8.5h-8.5zM540.2 724.7h8.5v8.5h-8.5zM540.7 725.6h8.5v8.5h-8.5zM541.2 726.5h8.5v8.5h-8.5zM541.7 727.3h8.5v8.5h-8.5zM542.2 728.2h8.5v8.5h-8.5zM542.7 729.0h8.5v8.5h-8.5zM543.2 729.9h8.5v8.5h-8.5zM543.7 730.8h8.5v8.5h-8.5zM544.2 731.7h8.5v8.5h-8.5zM544.7 732.5h8.5v8.5h-8.5zM545.1 733.4h8.5v8.5h-8.5zM545.6 734.3h8.5v8.5h-8.5zM546.1 735.2h8.5v8.5h-8.5zM546.6 736.0h8.5v8.5h-8.5zM547.1 736.9h8.5v8.5h-8.5zM547.5 737.8h8.5v8.5h-8.5zM548.0 738.7h8.5v8.5h-8.5zM548.5 739.6h8.5v8.5h-8.5zM549.0 740.4h8.5v8.5h-8.5zM549.4 741.3h8.5v8.5h-8.5zM549.9 742.2h8.5v8.5h-8.5zM550.4 743.1h8.5v8.5h-8.5zM550.8 744.0h8.5v8.5h-8.5zM551.3 744.9h8.5v8.5h-8.5zM551.7 745.8h8.5v8.5h-8.5zM552.2 746.6h8.5v8.5h-8.5zM552.7 747.5h8.5v8.5h-8.5zM553.1 748.4h8.5v8.5h-8.5zM553.6 749.3h8.5v8.5h-8.5zM554.0 750.2h8.5v8.5h-8.5zM554.5 751.1h8.5v8.5h-8.5zM554.9 752.0h8.5v8.5h-8.5zM555.4 752.9h8.5v8.5h-8.5zM555.8 753.8h8.5v8.5h-8.5zM556.2 754.7h8.5v8.5h-8.5zM556.7 755.6h8.5v8.5h-8.5zM557.1 756.5h8.5v8.5h-8.5zM557.6 757.4h8.5v8.5h-8.5zM558.0 758.3h8.5v8.5h-8.5zM558.4 759.2h8.5v8.5h-8.5zM558.9 760.1h8.5v8.5h-8.5zM559.3 761.0h8.5v8.5h-8.5zM559.7 761.9h8.5v8.5h-8.5zM560.2 762.8h8.5v8.5h-8.5zM560.6 763.7h8.5v8.5h-8.5zM561.0 764.6h8.5v8.5h-8.5zM561.4 765.5h8.5v8.5h-8.5zM561.9 766.4h8.5v8.5h-8.5zM562.3 767.3h8.5v8.5h-8.5zM562.7 768.2h8.5v8.5h-8.5zM563.1 769.1h8.5v8.5h-8.5zM563.6 770.0h8.5v8.5h-8.5zM564.0 770.9h8.5v8.5h-8.5zM564.4 771.8h8.5v8.5h-8.5zM564.8 772.8h8.5v8.5h-8.5zM565.2 773.7h8.5v8.5h-8.5zM565.6 774.6h8.5v8.5h-8.5zM566.1 775.5h8.5v8.5h-8.5zM566.5 776.4h8.5v8.5h-8.5zM566.9 777.3h8.5v8.5h-8.5zM567.3 778.2h8.5v8.5h-8.5zM567.7 779.1h8.5v8.5h-8.5zM568.1 780.0h8.5v8.5h-8.5zM568.5 781.0h8.5v8.5h-8.5zM568.9 781.9h8.5v8.5h-8.5zM569.3 782.8h8.5v8.5h-8.5zM569.7 783.7h8.5v8.5h-8.5zM570.2 784.6h8.5v8.5h-8.5zM570.6 785.5h8.5v8.5h-8.5zM571.0 786.4h8.5v8.5h-8.5zM571.4 787.4h8.5v8.5h-8.5zM571.8 788.3h8.5v8.5h-8.5zM572.2 789.2h8.5v8.5h-8.5zM572.6 790.1h8.5v8.5h-8.5zM573.0 791.0h8.5v8.5h-8.5zM573.4 791.9h8.5v8.5h-8.5zM573.8 792.8h8.5v8.5h-8.5zM574.2 793.8h8.5v8.5h-8.5zM574.6 794.7h8.5v8.5h-8.5zM575.0 795.6h8.5v8.5h-8.5zM575.4 796.5h8.5v8.5h-8.5zM575.8 797.4h8.5v8.5h-8.5zM576.2 798.3h8.5v8.5h-8.5zM576.6 799.3h8.5v8.5h-8.5zM577.0 800.2h8.5v8.5h-8.5zM577.4 801.1h8.5v8.5h-8.5zM577.8 802.0h8.5v8.5h-8.5zM578.2 802.9h8.5v8.5h-8.5zM578.6 803.8h8.5v8.5h-8.5zM579.0 804.8h8.5v8.5h-8.5zM579.4 805.7h8.5v8.5h-8.5zM579.8 806.6h8.5v8.5h-8.5zM580.2 807.5h8.5v8.5h-8.5zM580.6 808.4h8.5v8.5h-8.5zM581.0 809.3h8.5v8.5h-8.5zM581.4 810.3h8.5v8.5h-8.5zM581.8 811.2h8.5v8.5h-8.5zM582.1 812.1h8.5v8.5h-8.5zM582.5 813.0h8.5v8.5h-8.5zM582.9 813.9h8.5v8.5h-8.5zM583.3 814.9h8.5v8.5h-8.5zM583.7 815.8h8.5v8.5h-8.5zM584.1 816.7h8.5v8.5h-8.5zM584.5 817.6h8.5v8.5h-8.5zM584.9 818.5h8.5v8.5h-8.5zM585.3 819.5h8.5v8.5h-8.5zM585.7 820.4h8.5v8.5h-8.5zM586.1 821.3h8.5v8.5h-8.5zM586.4 822.2h8.5v8.5h-8.5zM586.8 823.2h8.5v8.5h-8.5zM587.2 824.1h8.5v8.5h-8.5zM587.6 825.0h8.5v8.5h-8.5zM588.0 825.9h8.5v8.5h-8.5zM588.3 826.9h8.5v8.5h-8.5zM588.7 827.8h8.5v8.5h-8.5zM589.1 828.7h8.5v8.5h-8.5zM589.5 829.6h8.5v8.5h-8.5zM589.9 830.6h8.5v8.5h-8.5zM590.2 831.5h8.5v8.5h-8.5zM590.6 832.4h8.5v8.5h-8.5zM591.0 833.3h8.5v8.5h-8.5zM591.3 834.3h8.5v8.5h-8.5zM591.7 835.2h8.5v8.5h-8.5zM592.1 836.1h8.5v8.5h-8.5zM592.4 837.1h8.5v8.5h-8.5zM592.8 838.0h8.5v8.5h-8.5zM593.2 838.9h8.5v8.5h-8.5zM593.5 839.9h8.5v8.5h-8.5zM593.9 840.8h8.5v8.5h-8.5zM594.2 841.7h8.5v8.5h-8.5zM594.6 842.7h8.5v8.5h-8.5zM594.9 843.6h8.5v8.5h-8.5zM595.3 844.5h8.5v8.5h-8.5zM595.6 845.5h8.5v8.5h-8.5zM596.0 846.4h8.5v8.5h-8.5z"/>
</g>
<rect x="397.2" y="592.2" width="4.6" height="14.1" fill="#f00"/>
<rect x="397.2" y="608.1" width="4.6" height="18" fill="#000"/>
</svg>
</body></html>
